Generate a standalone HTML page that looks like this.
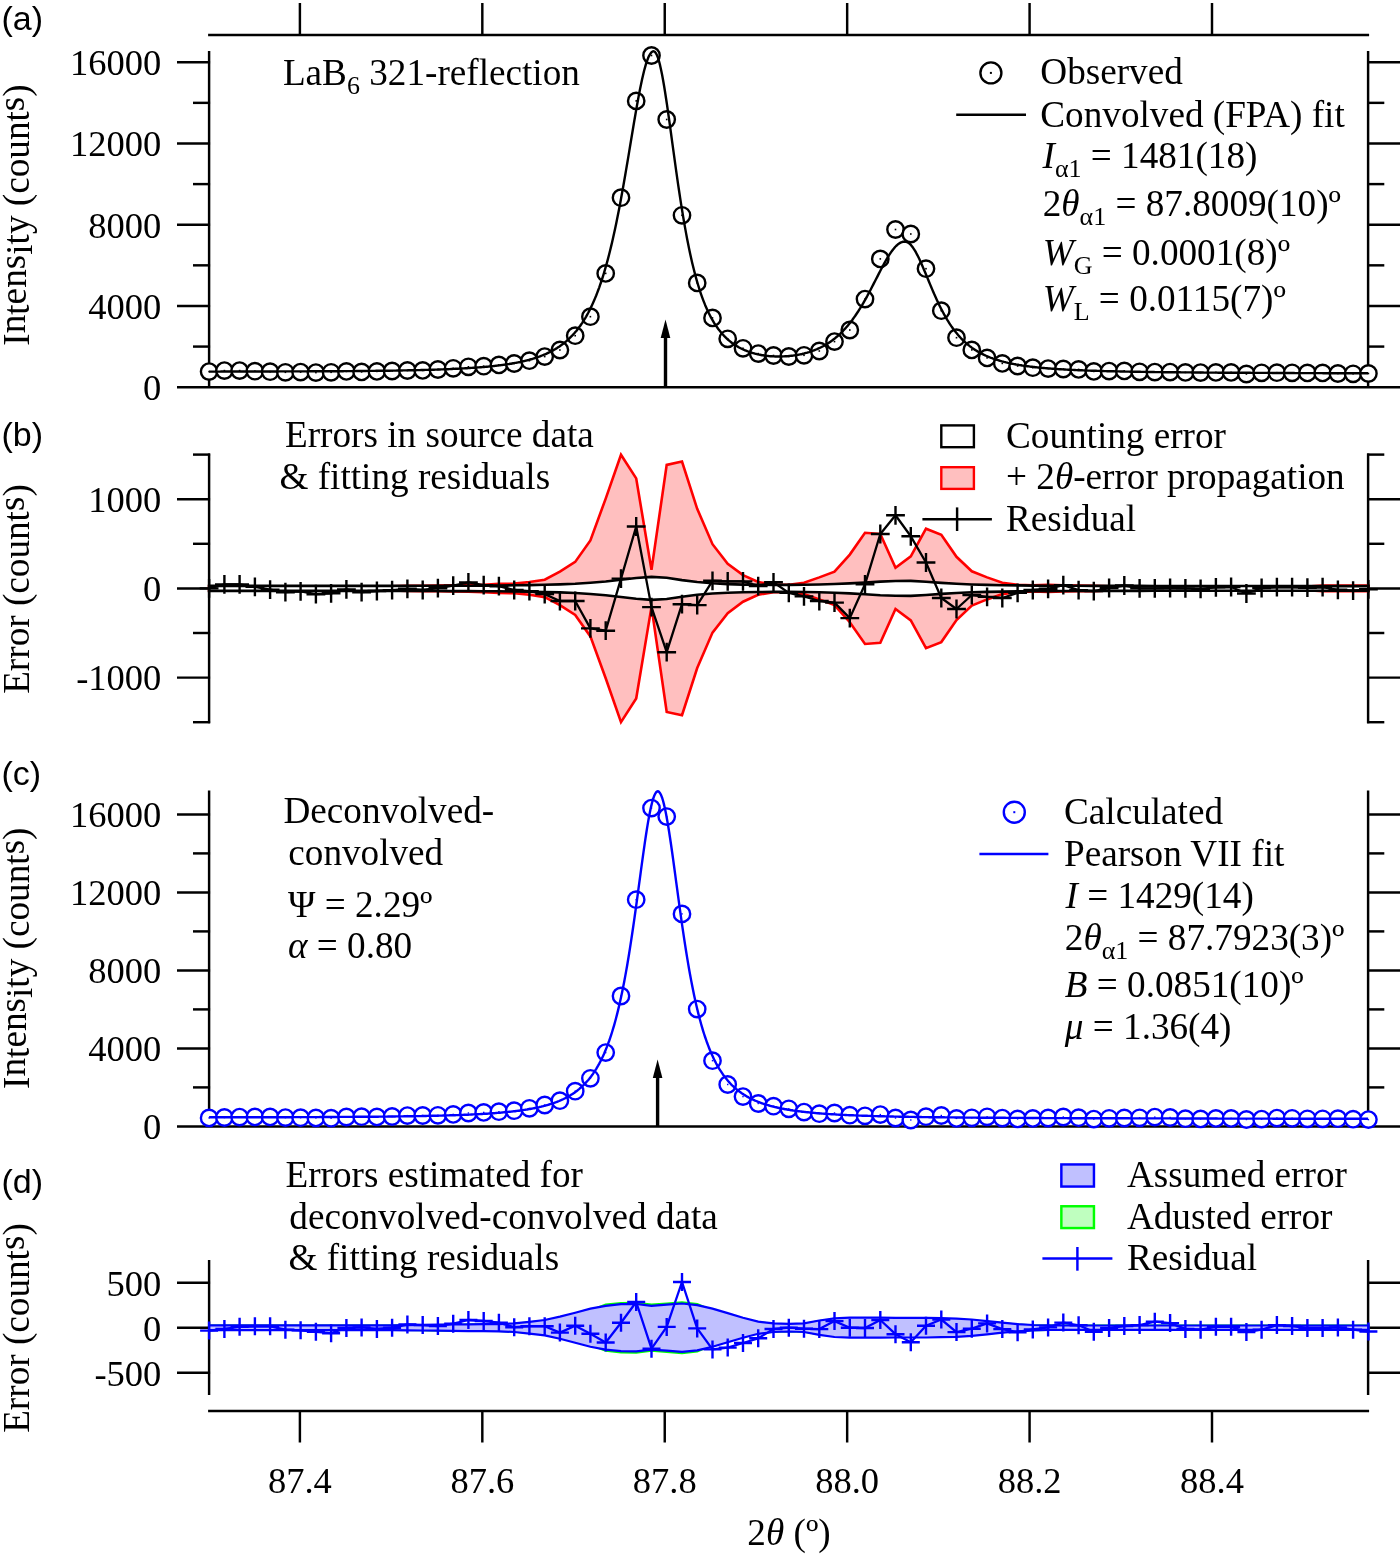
<!DOCTYPE html>
<html><head><meta charset="utf-8"><title>Figure</title>
<style>html,body{margin:0;padding:0;background:#fff}svg{display:block}text{fill:#000}</style></head>
<body><svg width="1400" height="1555" viewBox="0 0 1400 1555">
<rect width="1400" height="1555" fill="#fff"/>
<line x1="208.1" y1="35.0" x2="1369.1" y2="35.0" stroke="#000" stroke-width="2.45"/>
<line x1="299.9" y1="3" x2="299.9" y2="35.0" stroke="#000" stroke-width="2.45"/>
<line x1="482.31999999999994" y1="3" x2="482.31999999999994" y2="35.0" stroke="#000" stroke-width="2.45"/>
<line x1="664.74" y1="3" x2="664.74" y2="35.0" stroke="#000" stroke-width="2.45"/>
<line x1="847.16" y1="3" x2="847.16" y2="35.0" stroke="#000" stroke-width="2.45"/>
<line x1="1029.58" y1="3" x2="1029.58" y2="35.0" stroke="#000" stroke-width="2.45"/>
<line x1="1212.0" y1="3" x2="1212.0" y2="35.0" stroke="#000" stroke-width="2.45"/>
<line x1="208.1" y1="1411" x2="1369.1" y2="1411" stroke="#000" stroke-width="2.45"/>
<line x1="299.9" y1="1411" x2="299.9" y2="1442.5" stroke="#000" stroke-width="2.45"/>
<line x1="482.31999999999994" y1="1411" x2="482.31999999999994" y2="1442.5" stroke="#000" stroke-width="2.45"/>
<line x1="664.74" y1="1411" x2="664.74" y2="1442.5" stroke="#000" stroke-width="2.45"/>
<line x1="847.16" y1="1411" x2="847.16" y2="1442.5" stroke="#000" stroke-width="2.45"/>
<line x1="1029.58" y1="1411" x2="1029.58" y2="1442.5" stroke="#000" stroke-width="2.45"/>
<line x1="1212.0" y1="1411" x2="1212.0" y2="1442.5" stroke="#000" stroke-width="2.45"/>
<text x="299.9" y="1492.5" font-family='"Liberation Serif", "Times New Roman", serif' font-size="36.5" text-anchor="middle" >87.4</text>
<text x="482.31999999999994" y="1492.5" font-family='"Liberation Serif", "Times New Roman", serif' font-size="36.5" text-anchor="middle" >87.6</text>
<text x="664.74" y="1492.5" font-family='"Liberation Serif", "Times New Roman", serif' font-size="36.5" text-anchor="middle" >87.8</text>
<text x="847.16" y="1492.5" font-family='"Liberation Serif", "Times New Roman", serif' font-size="36.5" text-anchor="middle" >88.0</text>
<text x="1029.58" y="1492.5" font-family='"Liberation Serif", "Times New Roman", serif' font-size="36.5" text-anchor="middle" >88.2</text>
<text x="1212.0" y="1492.5" font-family='"Liberation Serif", "Times New Roman", serif' font-size="36.5" text-anchor="middle" >88.4</text>
<text x="789" y="1545" font-family='"Liberation Serif", "Times New Roman", serif' font-size="37.2" text-anchor="middle">2<tspan font-style="italic">θ</tspan> (<tspan font-size="40" dy="1">º</tspan><tspan dy="-1">)</tspan></text>
<line x1="177" y1="387.2" x2="1400" y2="387.2" stroke="#000" stroke-width="2.45"/>
<line x1="209.1" y1="51" x2="209.1" y2="387.2" stroke="#000" stroke-width="2.45"/>
<line x1="177" y1="305.96" x2="210.1" y2="305.96" stroke="#000" stroke-width="2.45"/>
<line x1="177" y1="224.71999999999997" x2="210.1" y2="224.71999999999997" stroke="#000" stroke-width="2.45"/>
<line x1="177" y1="143.47999999999996" x2="210.1" y2="143.47999999999996" stroke="#000" stroke-width="2.45"/>
<line x1="177" y1="62.23999999999995" x2="210.1" y2="62.23999999999995" stroke="#000" stroke-width="2.45"/>
<line x1="193" y1="346.58" x2="210.1" y2="346.58" stroke="#000" stroke-width="2.45"/>
<line x1="193" y1="265.34" x2="210.1" y2="265.34" stroke="#000" stroke-width="2.45"/>
<line x1="193" y1="184.09999999999997" x2="210.1" y2="184.09999999999997" stroke="#000" stroke-width="2.45"/>
<line x1="193" y1="102.85999999999996" x2="210.1" y2="102.85999999999996" stroke="#000" stroke-width="2.45"/>
<line x1="1368.1" y1="51" x2="1368.1" y2="387.2" stroke="#000" stroke-width="2.45"/>
<line x1="1367.1" y1="305.96" x2="1400" y2="305.96" stroke="#000" stroke-width="2.45"/>
<line x1="1367.1" y1="224.71999999999997" x2="1400" y2="224.71999999999997" stroke="#000" stroke-width="2.45"/>
<line x1="1367.1" y1="143.47999999999996" x2="1400" y2="143.47999999999996" stroke="#000" stroke-width="2.45"/>
<line x1="1367.1" y1="62.23999999999995" x2="1400" y2="62.23999999999995" stroke="#000" stroke-width="2.45"/>
<line x1="1367.1" y1="346.58" x2="1384.3" y2="346.58" stroke="#000" stroke-width="2.45"/>
<line x1="1367.1" y1="265.34" x2="1384.3" y2="265.34" stroke="#000" stroke-width="2.45"/>
<line x1="1367.1" y1="184.09999999999997" x2="1384.3" y2="184.09999999999997" stroke="#000" stroke-width="2.45"/>
<line x1="1367.1" y1="102.85999999999996" x2="1384.3" y2="102.85999999999996" stroke="#000" stroke-width="2.45"/>
<text x="161.3" y="400.0" font-family='"Liberation Serif", "Times New Roman", serif' font-size="36.5" text-anchor="end" >0</text>
<text x="161.3" y="318.76" font-family='"Liberation Serif", "Times New Roman", serif' font-size="36.5" text-anchor="end" >4000</text>
<text x="161.3" y="237.51999999999998" font-family='"Liberation Serif", "Times New Roman", serif' font-size="36.5" text-anchor="end" >8000</text>
<text x="161.3" y="156.27999999999997" font-family='"Liberation Serif", "Times New Roman", serif' font-size="36.5" text-anchor="end" >12000</text>
<text x="161.3" y="75.03999999999995" font-family='"Liberation Serif", "Times New Roman", serif' font-size="36.5" text-anchor="end" >16000</text>
<g fill="#fff" stroke="#000" stroke-width="2.4">
<circle cx="209.1" cy="371.6" r="8.2"/>
<circle cx="224.4" cy="370.6" r="8.2"/>
<circle cx="239.6" cy="370.6" r="8.2"/>
<circle cx="254.9" cy="371.2" r="8.2"/>
<circle cx="270.1" cy="371.7" r="8.2"/>
<circle cx="285.4" cy="372.3" r="8.2"/>
<circle cx="300.6" cy="372.1" r="8.2"/>
<circle cx="315.9" cy="372.6" r="8.2"/>
<circle cx="331.1" cy="372.3" r="8.2"/>
<circle cx="346.4" cy="371.4" r="8.2"/>
<circle cx="361.6" cy="371.9" r="8.2"/>
<circle cx="376.9" cy="371.4" r="8.2"/>
<circle cx="392.1" cy="371.0" r="8.2"/>
<circle cx="407.4" cy="370.5" r="8.2"/>
<circle cx="422.7" cy="370.4" r="8.2"/>
<circle cx="437.9" cy="369.5" r="8.2"/>
<circle cx="453.2" cy="368.3" r="8.2"/>
<circle cx="468.4" cy="366.8" r="8.2"/>
<circle cx="483.7" cy="366.2" r="8.2"/>
<circle cx="498.9" cy="364.9" r="8.2"/>
<circle cx="514.2" cy="363.5" r="8.2"/>
<circle cx="529.4" cy="360.7" r="8.2"/>
<circle cx="544.7" cy="356.6" r="8.2"/>
<circle cx="559.9" cy="350.0" r="8.2"/>
<circle cx="575.2" cy="335.7" r="8.2"/>
<circle cx="590.4" cy="316.7" r="8.2"/>
<circle cx="605.7" cy="273.4" r="8.2"/>
<circle cx="621.0" cy="197.7" r="8.2"/>
<circle cx="636.2" cy="100.9" r="8.2"/>
<circle cx="651.5" cy="55.5" r="8.2"/>
<circle cx="666.7" cy="119.5" r="8.2"/>
<circle cx="682.0" cy="215.3" r="8.2"/>
<circle cx="697.2" cy="282.9" r="8.2"/>
<circle cx="712.5" cy="317.9" r="8.2"/>
<circle cx="727.7" cy="338.8" r="8.2"/>
<circle cx="743.0" cy="348.3" r="8.2"/>
<circle cx="758.2" cy="353.6" r="8.2"/>
<circle cx="773.5" cy="355.5" r="8.2"/>
<circle cx="788.8" cy="356.5" r="8.2"/>
<circle cx="804.0" cy="355.3" r="8.2"/>
<circle cx="819.3" cy="351.0" r="8.2"/>
<circle cx="834.5" cy="341.6" r="8.2"/>
<circle cx="849.8" cy="330.0" r="8.2"/>
<circle cx="865.0" cy="299.1" r="8.2"/>
<circle cx="880.3" cy="258.9" r="8.2"/>
<circle cx="895.5" cy="229.5" r="8.2"/>
<circle cx="910.8" cy="234.0" r="8.2"/>
<circle cx="926.0" cy="268.7" r="8.2"/>
<circle cx="941.3" cy="310.7" r="8.2"/>
<circle cx="956.5" cy="337.7" r="8.2"/>
<circle cx="971.8" cy="349.9" r="8.2"/>
<circle cx="987.1" cy="357.9" r="8.2"/>
<circle cx="1002.3" cy="363.4" r="8.2"/>
<circle cx="1017.6" cy="366.0" r="8.2"/>
<circle cx="1032.8" cy="367.7" r="8.2"/>
<circle cx="1048.1" cy="368.6" r="8.2"/>
<circle cx="1063.3" cy="369.0" r="8.2"/>
<circle cx="1078.6" cy="369.4" r="8.2"/>
<circle cx="1093.8" cy="371.4" r="8.2"/>
<circle cx="1109.1" cy="371.1" r="8.2"/>
<circle cx="1124.3" cy="370.9" r="8.2"/>
<circle cx="1139.6" cy="371.8" r="8.2"/>
<circle cx="1154.8" cy="372.1" r="8.2"/>
<circle cx="1170.1" cy="372.1" r="8.2"/>
<circle cx="1185.4" cy="372.4" r="8.2"/>
<circle cx="1200.6" cy="372.6" r="8.2"/>
<circle cx="1215.9" cy="372.4" r="8.2"/>
<circle cx="1231.1" cy="372.4" r="8.2"/>
<circle cx="1246.4" cy="374.0" r="8.2"/>
<circle cx="1261.6" cy="372.8" r="8.2"/>
<circle cx="1276.9" cy="372.7" r="8.2"/>
<circle cx="1292.1" cy="372.8" r="8.2"/>
<circle cx="1307.4" cy="372.9" r="8.2"/>
<circle cx="1322.6" cy="372.9" r="8.2"/>
<circle cx="1337.9" cy="373.5" r="8.2"/>
<circle cx="1353.1" cy="373.8" r="8.2"/>
<circle cx="1368.4" cy="373.5" r="8.2"/>
</g>
<polyline fill="none" stroke="#000" stroke-width="2.4" stroke-linejoin="round" points="209.1,371.6 210.1,371.6 211.1,371.6 212.1,371.6 213.1,371.6 214.1,371.6 215.1,371.6 216.1,371.6 217.1,371.6 218.1,371.6 219.1,371.6 220.1,371.6 221.1,371.5 222.1,371.5 223.1,371.5 224.1,371.5 225.1,371.5 226.1,371.5 227.1,371.5 228.1,371.5 229.1,371.5 230.1,371.5 231.1,371.5 232.1,371.5 233.1,371.5 234.1,371.5 235.1,371.5 236.1,371.5 237.1,371.5 238.1,371.5 239.1,371.5 240.1,371.5 241.1,371.5 242.1,371.5 243.1,371.5 244.1,371.5 245.1,371.5 246.1,371.5 247.1,371.5 248.1,371.5 249.1,371.5 250.1,371.5 251.1,371.5 252.1,371.5 253.1,371.5 254.1,371.5 255.1,371.5 256.1,371.5 257.1,371.5 258.1,371.5 259.1,371.5 260.1,371.5 261.1,371.5 262.1,371.5 263.1,371.5 264.1,371.5 265.1,371.5 266.1,371.5 267.1,371.5 268.1,371.5 269.1,371.5 270.1,371.5 271.1,371.5 272.1,371.5 273.1,371.5 274.1,371.5 275.1,371.5 276.1,371.5 277.1,371.5 278.1,371.5 279.1,371.4 280.1,371.4 281.1,371.4 282.1,371.4 283.1,371.4 284.1,371.4 285.1,371.4 286.1,371.4 287.1,371.4 288.1,371.4 289.1,371.4 290.1,371.4 291.1,371.4 292.1,371.4 293.1,371.4 294.1,371.4 295.1,371.4 296.1,371.4 297.1,371.4 298.1,371.4 299.1,371.4 300.1,371.4 301.1,371.4 302.1,371.4 303.1,371.4 304.1,371.4 305.1,371.4 306.1,371.4 307.1,371.4 308.1,371.3 309.1,371.3 310.1,371.3 311.1,371.3 312.1,371.3 313.1,371.3 314.1,371.3 315.1,371.3 316.1,371.3 317.1,371.3 318.1,371.3 319.1,371.3 320.1,371.3 321.1,371.3 322.1,371.3 323.1,371.3 324.1,371.3 325.1,371.3 326.1,371.3 327.1,371.3 328.1,371.3 329.1,371.2 330.1,371.2 331.1,371.2 332.1,371.2 333.1,371.2 334.1,371.2 335.1,371.2 336.1,371.2 337.1,371.2 338.1,371.2 339.1,371.2 340.1,371.2 341.1,371.2 342.1,371.2 343.1,371.2 344.1,371.1 345.1,371.1 346.1,371.1 347.1,371.1 348.1,371.1 349.1,371.1 350.1,371.1 351.1,371.1 352.1,371.1 353.1,371.1 354.1,371.1 355.1,371.1 356.1,371.0 357.1,371.0 358.1,371.0 359.1,371.0 360.1,371.0 361.1,371.0 362.1,371.0 363.1,371.0 364.1,371.0 365.1,371.0 366.1,371.0 367.1,370.9 368.1,370.9 369.1,370.9 370.1,370.9 371.1,370.9 372.1,370.9 373.1,370.9 374.1,370.9 375.1,370.9 376.1,370.8 377.1,370.8 378.1,370.8 379.1,370.8 380.1,370.8 381.1,370.8 382.1,370.8 383.1,370.8 384.1,370.7 385.1,370.7 386.1,370.7 387.1,370.7 388.1,370.7 389.1,370.7 390.1,370.7 391.1,370.6 392.1,370.6 393.1,370.6 394.1,370.6 395.1,370.6 396.1,370.6 397.1,370.5 398.1,370.5 399.1,370.5 400.1,370.5 401.1,370.5 402.1,370.5 403.1,370.4 404.1,370.4 405.1,370.4 406.1,370.4 407.1,370.4 408.1,370.3 409.1,370.3 410.1,370.3 411.1,370.3 412.1,370.3 413.1,370.2 414.1,370.2 415.1,370.2 416.1,370.2 417.1,370.1 418.1,370.1 419.1,370.1 420.1,370.1 421.1,370.0 422.1,370.0 423.1,370.0 424.1,370.0 425.1,369.9 426.1,369.9 427.1,369.9 428.1,369.9 429.1,369.8 430.1,369.8 431.1,369.8 432.1,369.7 433.1,369.7 434.1,369.7 435.1,369.6 436.1,369.6 437.1,369.6 438.1,369.5 439.1,369.5 440.1,369.5 441.1,369.4 442.1,369.4 443.1,369.4 444.1,369.3 445.1,369.3 446.1,369.2 447.1,369.2 448.1,369.2 449.1,369.1 450.1,369.1 451.1,369.0 452.1,369.0 453.1,368.9 454.1,368.9 455.1,368.8 456.1,368.8 457.1,368.8 458.1,368.7 459.1,368.6 460.1,368.6 461.1,368.5 462.1,368.5 463.1,368.4 464.1,368.4 465.1,368.3 466.1,368.3 467.1,368.2 468.1,368.1 469.1,368.1 470.1,368.0 471.1,367.9 472.1,367.9 473.1,367.8 474.1,367.7 475.1,367.7 476.1,367.6 477.1,367.5 478.1,367.4 479.1,367.4 480.1,367.3 481.1,367.2 482.1,367.1 483.1,367.0 484.1,367.0 485.1,366.9 486.1,366.8 487.1,366.7 488.1,366.6 489.1,366.5 490.1,366.4 491.1,366.3 492.1,366.2 493.1,366.1 494.1,366.0 495.1,365.9 496.1,365.7 497.1,365.6 498.1,365.5 499.1,365.4 500.1,365.3 501.1,365.1 502.1,365.0 503.1,364.9 504.1,364.7 505.1,364.6 506.1,364.4 507.1,364.3 508.1,364.1 509.1,364.0 510.1,363.8 511.1,363.7 512.1,363.5 513.1,363.3 514.1,363.1 515.1,362.9 516.1,362.8 517.1,362.6 518.1,362.4 519.1,362.2 520.1,362.0 521.1,361.7 522.1,361.5 523.1,361.3 524.1,361.1 525.1,360.8 526.1,360.6 527.1,360.3 528.1,360.1 529.1,359.8 530.1,359.5 531.1,359.2 532.1,359.0 533.1,358.7 534.1,358.3 535.1,358.0 536.1,357.7 537.1,357.4 538.1,357.0 539.1,356.7 540.1,356.3 541.1,355.9 542.1,355.5 543.1,355.1 544.1,354.7 545.1,354.3 546.1,353.9 547.1,353.4 548.1,352.9 549.1,352.4 550.1,352.0 551.1,351.4 552.1,350.9 553.1,350.4 554.1,349.8 555.1,349.2 556.1,348.6 557.1,348.0 558.1,347.3 559.1,346.7 560.1,346.0 561.1,345.3 562.1,344.6 563.1,343.8 564.1,343.0 565.1,342.2 566.1,341.4 567.1,340.5 568.1,339.6 569.1,338.7 570.1,337.7 571.1,336.7 572.1,335.7 573.1,334.6 574.1,333.5 575.1,332.3 576.1,331.2 577.1,329.9 578.1,328.6 579.1,327.3 580.1,326.0 581.1,324.5 582.1,323.1 583.1,321.5 584.1,319.9 585.1,318.3 586.1,316.6 587.1,314.8 588.1,313.0 589.1,311.1 590.1,309.1 591.1,307.1 592.1,305.0 593.1,302.8 594.1,300.5 595.1,298.1 596.1,295.7 597.1,293.1 598.1,290.5 599.1,287.8 600.1,284.9 601.1,282.0 602.1,279.0 603.1,275.8 604.1,272.6 605.1,269.2 606.1,265.7 607.1,262.1 608.1,258.4 609.1,254.5 610.1,250.5 611.1,246.4 612.1,242.2 613.1,237.8 614.1,233.3 615.1,228.7 616.1,223.9 617.1,219.1 618.1,214.0 619.1,208.9 620.1,203.7 621.1,198.3 622.1,192.8 623.1,187.2 624.1,181.5 625.1,175.8 626.1,169.9 627.1,164.0 628.1,158.1 629.1,152.1 630.1,146.0 631.1,140.0 632.1,134.0 633.1,128.0 634.1,122.0 635.1,116.2 636.1,110.4 637.1,104.7 638.1,99.2 639.1,93.9 640.1,88.8 641.1,83.9 642.1,79.2 643.1,74.9 644.1,70.8 645.1,67.1 646.1,63.7 647.1,60.7 648.1,58.1 649.1,55.8 650.1,54.1 651.1,52.7 652.1,51.8 653.1,51.3 654.1,51.4 655.1,52.1 656.1,53.5 657.1,55.5 658.1,58.2 659.1,61.5 660.1,65.4 661.1,69.9 662.1,74.8 663.1,80.2 664.1,86.0 665.1,92.2 666.1,98.7 667.1,105.4 668.1,112.4 669.1,119.5 670.1,126.7 671.1,134.0 672.1,141.3 673.1,148.6 674.1,155.9 675.1,163.2 676.1,170.3 677.1,177.4 678.1,184.3 679.1,191.0 680.1,197.6 681.1,204.1 682.1,210.3 683.1,216.4 684.1,222.3 685.1,227.9 686.1,233.4 687.1,238.7 688.1,243.8 689.1,248.7 690.1,253.5 691.1,258.0 692.1,262.4 693.1,266.5 694.1,270.5 695.1,274.4 696.1,278.1 697.1,281.6 698.1,285.0 699.1,288.2 700.1,291.3 701.1,294.3 702.1,297.1 703.1,299.8 704.1,302.4 705.1,304.9 706.1,307.2 707.1,309.5 708.1,311.7 709.1,313.7 710.1,315.7 711.1,317.6 712.1,319.4 713.1,321.1 714.1,322.8 715.1,324.4 716.1,325.9 717.1,327.3 718.1,328.7 719.1,330.1 720.1,331.3 721.1,332.6 722.1,333.7 723.1,334.8 724.1,335.9 725.1,336.9 726.1,337.9 727.1,338.9 728.1,339.8 729.1,340.6 730.1,341.4 731.1,342.2 732.1,343.0 733.1,343.7 734.1,344.4 735.1,345.1 736.1,345.7 737.1,346.3 738.1,346.9 739.1,347.5 740.1,348.0 741.1,348.5 742.1,349.0 743.1,349.5 744.1,349.9 745.1,350.3 746.1,350.7 747.1,351.1 748.1,351.5 749.1,351.9 750.1,352.2 751.1,352.5 752.1,352.8 753.1,353.1 754.1,353.4 755.1,353.7 756.1,353.9 757.1,354.2 758.1,354.4 759.1,354.6 760.1,354.8 761.1,355.0 762.1,355.2 763.1,355.3 764.1,355.5 765.1,355.6 766.1,355.7 767.1,355.9 768.1,356.0 769.1,356.1 770.1,356.2 771.1,356.2 772.1,356.3 773.1,356.4 774.1,356.4 775.1,356.5 776.1,356.5 777.1,356.5 778.1,356.5 779.1,356.5 780.1,356.5 781.1,356.5 782.1,356.5 783.1,356.4 784.1,356.4 785.1,356.3 786.1,356.3 787.1,356.2 788.1,356.1 789.1,356.0 790.1,355.9 791.1,355.8 792.1,355.7 793.1,355.6 794.1,355.4 795.1,355.3 796.1,355.1 797.1,355.0 798.1,354.8 799.1,354.6 800.1,354.4 801.1,354.2 802.1,354.0 803.1,353.7 804.1,353.5 805.1,353.2 806.1,352.9 807.1,352.7 808.1,352.4 809.1,352.1 810.1,351.7 811.1,351.4 812.1,351.0 813.1,350.7 814.1,350.3 815.1,349.9 816.1,349.5 817.1,349.1 818.1,348.6 819.1,348.2 820.1,347.7 821.1,347.2 822.1,346.7 823.1,346.2 824.1,345.6 825.1,345.0 826.1,344.4 827.1,343.8 828.1,343.2 829.1,342.6 830.1,341.9 831.1,341.2 832.1,340.5 833.1,339.7 834.1,338.9 835.1,338.2 836.1,337.3 837.1,336.5 838.1,335.6 839.1,334.7 840.1,333.8 841.1,332.8 842.1,331.8 843.1,330.8 844.1,329.7 845.1,328.7 846.1,327.5 847.1,326.4 848.1,325.2 849.1,324.0 850.1,322.8 851.1,321.5 852.1,320.2 853.1,318.8 854.1,317.4 855.1,316.0 856.1,314.5 857.1,313.0 858.1,311.5 859.1,309.9 860.1,308.3 861.1,306.7 862.1,305.1 863.1,303.4 864.1,301.6 865.1,299.9 866.1,298.1 867.1,296.3 868.1,294.4 869.1,292.6 870.1,290.7 871.1,288.8 872.1,286.8 873.1,284.9 874.1,282.9 875.1,281.0 876.1,279.0 877.1,277.1 878.1,275.1 879.1,273.1 880.1,271.2 881.1,269.3 882.1,267.4 883.1,265.5 884.1,263.6 885.1,261.8 886.1,260.1 887.1,258.4 888.1,256.7 889.1,255.1 890.1,253.6 891.1,252.1 892.1,250.7 893.1,249.4 894.1,248.2 895.1,247.0 896.1,246.0 897.1,245.1 898.1,244.2 899.1,243.5 900.1,242.9 901.1,242.4 902.1,242.0 903.1,241.8 904.1,241.7 905.1,241.6 906.1,241.8 907.1,242.1 908.1,242.6 909.1,243.3 910.1,244.2 911.1,245.2 912.1,246.5 913.1,247.8 914.1,249.3 915.1,250.9 916.1,252.7 917.1,254.6 918.1,256.5 919.1,258.6 920.1,260.7 921.1,263.0 922.1,265.2 923.1,267.6 924.1,269.9 925.1,272.3 926.1,274.7 927.1,277.1 928.1,279.5 929.1,282.0 930.1,284.4 931.1,286.7 932.1,289.1 933.1,291.4 934.1,293.8 935.1,296.0 936.1,298.2 937.1,300.4 938.1,302.6 939.1,304.7 940.1,306.7 941.1,308.7 942.1,310.6 943.1,312.5 944.1,314.4 945.1,316.2 946.1,317.9 947.1,319.6 948.1,321.2 949.1,322.8 950.1,324.4 951.1,325.9 952.1,327.3 953.1,328.7 954.1,330.0 955.1,331.3 956.1,332.6 957.1,333.8 958.1,335.0 959.1,336.1 960.1,337.2 961.1,338.3 962.1,339.3 963.1,340.3 964.1,341.3 965.1,342.2 966.1,343.1 967.1,344.0 968.1,344.8 969.1,345.6 970.1,346.4 971.1,347.1 972.1,347.9 973.1,348.6 974.1,349.2 975.1,349.9 976.1,350.5 977.1,351.1 978.1,351.7 979.1,352.3 980.1,352.9 981.1,353.4 982.1,353.9 983.1,354.4 984.1,354.9 985.1,355.3 986.1,355.8 987.1,356.2 988.1,356.7 989.1,357.1 990.1,357.5 991.1,357.9 992.1,358.2 993.1,358.6 994.1,358.9 995.1,359.3 996.1,359.6 997.1,359.9 998.1,360.2 999.1,360.5 1000.1,360.8 1001.1,361.1 1002.1,361.4 1003.1,361.6 1004.1,361.9 1005.1,362.1 1006.1,362.4 1007.1,362.6 1008.1,362.9 1009.1,363.1 1010.1,363.3 1011.1,363.5 1012.1,363.7 1013.1,363.9 1014.1,364.1 1015.1,364.3 1016.1,364.5 1017.1,364.6 1018.1,364.8 1019.1,365.0 1020.1,365.1 1021.1,365.3 1022.1,365.5 1023.1,365.6 1024.1,365.8 1025.1,365.9 1026.1,366.0 1027.1,366.2 1028.1,366.3 1029.1,366.4 1030.1,366.6 1031.1,366.7 1032.1,366.8 1033.1,366.9 1034.1,367.0 1035.1,367.2 1036.1,367.3 1037.1,367.4 1038.1,367.5 1039.1,367.6 1040.1,367.7 1041.1,367.8 1042.1,367.9 1043.1,368.0 1044.1,368.0 1045.1,368.1 1046.1,368.2 1047.1,368.3 1048.1,368.4 1049.1,368.5 1050.1,368.5 1051.1,368.6 1052.1,368.7 1053.1,368.8 1054.1,368.8 1055.1,368.9 1056.1,369.0 1057.1,369.0 1058.1,369.1 1059.1,369.2 1060.1,369.2 1061.1,369.3 1062.1,369.4 1063.1,369.4 1064.1,369.5 1065.1,369.5 1066.1,369.6 1067.1,369.6 1068.1,369.7 1069.1,369.7 1070.1,369.8 1071.1,369.8 1072.1,369.9 1073.1,369.9 1074.1,370.0 1075.1,370.0 1076.1,370.1 1077.1,370.1 1078.1,370.2 1079.1,370.2 1080.1,370.3 1081.1,370.3 1082.1,370.3 1083.1,370.4 1084.1,370.4 1085.1,370.5 1086.1,370.5 1087.1,370.5 1088.1,370.6 1089.1,370.6 1090.1,370.6 1091.1,370.7 1092.1,370.7 1093.1,370.7 1094.1,370.8 1095.1,370.8 1096.1,370.8 1097.1,370.9 1098.1,370.9 1099.1,370.9 1100.1,371.0 1101.1,371.0 1102.1,371.0 1103.1,371.0 1104.1,371.1 1105.1,371.1 1106.1,371.1 1107.1,371.2 1108.1,371.2 1109.1,371.2 1110.1,371.2 1111.1,371.3 1112.1,371.3 1113.1,371.3 1114.1,371.3 1115.1,371.4 1116.1,371.4 1117.1,371.4 1118.1,371.4 1119.1,371.4 1120.1,371.5 1121.1,371.5 1122.1,371.5 1123.1,371.5 1124.1,371.5 1125.1,371.6 1126.1,371.6 1127.1,371.6 1128.1,371.6 1129.1,371.6 1130.1,371.7 1131.1,371.7 1132.1,371.7 1133.1,371.7 1134.1,371.7 1135.1,371.8 1136.1,371.8 1137.1,371.8 1138.1,371.8 1139.1,371.8 1140.1,371.8 1141.1,371.9 1142.1,371.9 1143.1,371.9 1144.1,371.9 1145.1,371.9 1146.1,371.9 1147.1,371.9 1148.1,372.0 1149.1,372.0 1150.1,372.0 1151.1,372.0 1152.1,372.0 1153.1,372.0 1154.1,372.0 1155.1,372.1 1156.1,372.1 1157.1,372.1 1158.1,372.1 1159.1,372.1 1160.1,372.1 1161.1,372.1 1162.1,372.1 1163.1,372.2 1164.1,372.2 1165.1,372.2 1166.1,372.2 1167.1,372.2 1168.1,372.2 1169.1,372.2 1170.1,372.2 1171.1,372.2 1172.1,372.3 1173.1,372.3 1174.1,372.3 1175.1,372.3 1176.1,372.3 1177.1,372.3 1178.1,372.3 1179.1,372.3 1180.1,372.3 1181.1,372.4 1182.1,372.4 1183.1,372.4 1184.1,372.4 1185.1,372.4 1186.1,372.4 1187.1,372.4 1188.1,372.4 1189.1,372.4 1190.1,372.4 1191.1,372.4 1192.1,372.5 1193.1,372.5 1194.1,372.5 1195.1,372.5 1196.1,372.5 1197.1,372.5 1198.1,372.5 1199.1,372.5 1200.1,372.5 1201.1,372.5 1202.1,372.5 1203.1,372.5 1204.1,372.6 1205.1,372.6 1206.1,372.6 1207.1,372.6 1208.1,372.6 1209.1,372.6 1210.1,372.6 1211.1,372.6 1212.1,372.6 1213.1,372.6 1214.1,372.6 1215.1,372.6 1216.1,372.6 1217.1,372.6 1218.1,372.7 1219.1,372.7 1220.1,372.7 1221.1,372.7 1222.1,372.7 1223.1,372.7 1224.1,372.7 1225.1,372.7 1226.1,372.7 1227.1,372.7 1228.1,372.7 1229.1,372.7 1230.1,372.7 1231.1,372.7 1232.1,372.7 1233.1,372.8 1234.1,372.8 1235.1,372.8 1236.1,372.8 1237.1,372.8 1238.1,372.8 1239.1,372.8 1240.1,372.8 1241.1,372.8 1242.1,372.8 1243.1,372.8 1244.1,372.8 1245.1,372.8 1246.1,372.8 1247.1,372.8 1248.1,372.8 1249.1,372.8 1250.1,372.8 1251.1,372.9 1252.1,372.9 1253.1,372.9 1254.1,372.9 1255.1,372.9 1256.1,372.9 1257.1,372.9 1258.1,372.9 1259.1,372.9 1260.1,372.9 1261.1,372.9 1262.1,372.9 1263.1,372.9 1264.1,372.9 1265.1,372.9 1266.1,372.9 1267.1,372.9 1268.1,372.9 1269.1,372.9 1270.1,372.9 1271.1,372.9 1272.1,373.0 1273.1,373.0 1274.1,373.0 1275.1,373.0 1276.1,373.0 1277.1,373.0 1278.1,373.0 1279.1,373.0 1280.1,373.0 1281.1,373.0 1282.1,373.0 1283.1,373.0 1284.1,373.0 1285.1,373.0 1286.1,373.0 1287.1,373.0 1288.1,373.0 1289.1,373.0 1290.1,373.0 1291.1,373.0 1292.1,373.0 1293.1,373.0 1294.1,373.0 1295.1,373.1 1296.1,373.1 1297.1,373.1 1298.1,373.1 1299.1,373.1 1300.1,373.1 1301.1,373.1 1302.1,373.1 1303.1,373.1 1304.1,373.1 1305.1,373.1 1306.1,373.1 1307.1,373.1 1308.1,373.1 1309.1,373.1 1310.1,373.1 1311.1,373.1 1312.1,373.1 1313.1,373.1 1314.1,373.1 1315.1,373.1 1316.1,373.1 1317.1,373.1 1318.1,373.1 1319.1,373.1 1320.1,373.1 1321.1,373.1 1322.1,373.1 1323.1,373.2 1324.1,373.2 1325.1,373.2 1326.1,373.2 1327.1,373.2 1328.1,373.2 1329.1,373.2 1330.1,373.2 1331.1,373.2 1332.1,373.2 1333.1,373.2 1334.1,373.2 1335.1,373.2 1336.1,373.2 1337.1,373.2 1338.1,373.2 1339.1,373.2 1340.1,373.2 1341.1,373.2 1342.1,373.2 1343.1,373.2 1344.1,373.2 1345.1,373.2 1346.1,373.2 1347.1,373.2 1348.1,373.2 1349.1,373.2 1350.1,373.2 1351.1,373.2 1352.1,373.2 1353.1,373.2 1354.1,373.3 1355.1,373.3 1356.1,373.3 1357.1,373.3 1358.1,373.3 1359.1,373.3 1360.1,373.3 1361.1,373.3 1362.1,373.3 1363.1,373.3 1364.1,373.3 1365.1,373.3 1366.1,373.3 1367.1,373.3 1368.1,373.3"/>
<g fill="#000">
<rect x="208.3" y="370.8" width="1.6" height="1.6"/>
<rect x="223.6" y="369.8" width="1.6" height="1.6"/>
<rect x="238.8" y="369.8" width="1.6" height="1.6"/>
<rect x="254.1" y="370.4" width="1.6" height="1.6"/>
<rect x="269.3" y="370.9" width="1.6" height="1.6"/>
<rect x="284.6" y="371.5" width="1.6" height="1.6"/>
<rect x="299.8" y="371.3" width="1.6" height="1.6"/>
<rect x="315.1" y="371.8" width="1.6" height="1.6"/>
<rect x="330.3" y="371.5" width="1.6" height="1.6"/>
<rect x="345.6" y="370.6" width="1.6" height="1.6"/>
<rect x="360.8" y="371.1" width="1.6" height="1.6"/>
<rect x="376.1" y="370.6" width="1.6" height="1.6"/>
<rect x="391.3" y="370.2" width="1.6" height="1.6"/>
<rect x="406.6" y="369.7" width="1.6" height="1.6"/>
<rect x="421.9" y="369.6" width="1.6" height="1.6"/>
<rect x="437.1" y="368.7" width="1.6" height="1.6"/>
<rect x="452.4" y="367.5" width="1.6" height="1.6"/>
<rect x="467.6" y="366.0" width="1.6" height="1.6"/>
<rect x="482.9" y="365.4" width="1.6" height="1.6"/>
<rect x="498.1" y="364.1" width="1.6" height="1.6"/>
<rect x="513.4" y="362.7" width="1.6" height="1.6"/>
<rect x="528.6" y="359.9" width="1.6" height="1.6"/>
<rect x="543.9" y="355.8" width="1.6" height="1.6"/>
<rect x="559.1" y="349.2" width="1.6" height="1.6"/>
<rect x="574.4" y="334.9" width="1.6" height="1.6"/>
<rect x="589.6" y="315.9" width="1.6" height="1.6"/>
<rect x="604.9" y="272.6" width="1.6" height="1.6"/>
<rect x="620.2" y="196.9" width="1.6" height="1.6"/>
<rect x="635.4" y="100.1" width="1.6" height="1.6"/>
<rect x="650.7" y="54.7" width="1.6" height="1.6"/>
<rect x="665.9" y="118.7" width="1.6" height="1.6"/>
<rect x="681.2" y="214.5" width="1.6" height="1.6"/>
<rect x="696.4" y="282.1" width="1.6" height="1.6"/>
<rect x="711.7" y="317.1" width="1.6" height="1.6"/>
<rect x="726.9" y="338.0" width="1.6" height="1.6"/>
<rect x="742.2" y="347.5" width="1.6" height="1.6"/>
<rect x="757.4" y="352.8" width="1.6" height="1.6"/>
<rect x="772.7" y="354.7" width="1.6" height="1.6"/>
<rect x="788.0" y="355.7" width="1.6" height="1.6"/>
<rect x="803.2" y="354.5" width="1.6" height="1.6"/>
<rect x="818.5" y="350.2" width="1.6" height="1.6"/>
<rect x="833.7" y="340.8" width="1.6" height="1.6"/>
<rect x="849.0" y="329.2" width="1.6" height="1.6"/>
<rect x="864.2" y="298.3" width="1.6" height="1.6"/>
<rect x="879.5" y="258.1" width="1.6" height="1.6"/>
<rect x="894.7" y="228.7" width="1.6" height="1.6"/>
<rect x="910.0" y="233.2" width="1.6" height="1.6"/>
<rect x="925.2" y="267.9" width="1.6" height="1.6"/>
<rect x="940.5" y="309.9" width="1.6" height="1.6"/>
<rect x="955.7" y="336.9" width="1.6" height="1.6"/>
<rect x="971.0" y="349.1" width="1.6" height="1.6"/>
<rect x="986.3" y="357.1" width="1.6" height="1.6"/>
<rect x="1001.5" y="362.6" width="1.6" height="1.6"/>
<rect x="1016.8" y="365.2" width="1.6" height="1.6"/>
<rect x="1032.0" y="366.9" width="1.6" height="1.6"/>
<rect x="1047.3" y="367.8" width="1.6" height="1.6"/>
<rect x="1062.5" y="368.2" width="1.6" height="1.6"/>
<rect x="1077.8" y="368.6" width="1.6" height="1.6"/>
<rect x="1093.0" y="370.6" width="1.6" height="1.6"/>
<rect x="1108.3" y="370.3" width="1.6" height="1.6"/>
<rect x="1123.5" y="370.1" width="1.6" height="1.6"/>
<rect x="1138.8" y="371.0" width="1.6" height="1.6"/>
<rect x="1154.0" y="371.3" width="1.6" height="1.6"/>
<rect x="1169.3" y="371.3" width="1.6" height="1.6"/>
<rect x="1184.6" y="371.6" width="1.6" height="1.6"/>
<rect x="1199.8" y="371.8" width="1.6" height="1.6"/>
<rect x="1215.1" y="371.6" width="1.6" height="1.6"/>
<rect x="1230.3" y="371.6" width="1.6" height="1.6"/>
<rect x="1245.6" y="373.2" width="1.6" height="1.6"/>
<rect x="1260.8" y="372.0" width="1.6" height="1.6"/>
<rect x="1276.1" y="371.9" width="1.6" height="1.6"/>
<rect x="1291.3" y="372.0" width="1.6" height="1.6"/>
<rect x="1306.6" y="372.1" width="1.6" height="1.6"/>
<rect x="1321.8" y="372.1" width="1.6" height="1.6"/>
<rect x="1337.1" y="372.7" width="1.6" height="1.6"/>
<rect x="1352.3" y="373.0" width="1.6" height="1.6"/>
<rect x="1367.6" y="372.7" width="1.6" height="1.6"/>
</g>
<line x1="665.5" y1="387" x2="665.5" y2="337.6" stroke="#000" stroke-width="3.4"/>
<polygon points="660.7,338.0 665.5,319.6 670.3,338.0" fill="#000"/>
<line x1="177" y1="588.4" x2="1400" y2="588.4" stroke="#000" stroke-width="2.45"/>
<line x1="209.1" y1="453.59999999999997" x2="209.1" y2="723.2" stroke="#000" stroke-width="2.45"/>
<line x1="177" y1="499.2" x2="210.1" y2="499.2" stroke="#000" stroke-width="2.45"/>
<line x1="177" y1="677.6" x2="210.1" y2="677.6" stroke="#000" stroke-width="2.45"/>
<line x1="193" y1="454.59999999999997" x2="210.1" y2="454.59999999999997" stroke="#000" stroke-width="2.45"/>
<line x1="193" y1="543.8" x2="210.1" y2="543.8" stroke="#000" stroke-width="2.45"/>
<line x1="193" y1="633.0" x2="210.1" y2="633.0" stroke="#000" stroke-width="2.45"/>
<line x1="193" y1="722.2" x2="210.1" y2="722.2" stroke="#000" stroke-width="2.45"/>
<line x1="1368.1" y1="453.59999999999997" x2="1368.1" y2="723.2" stroke="#000" stroke-width="2.45"/>
<line x1="1367.1" y1="499.2" x2="1400" y2="499.2" stroke="#000" stroke-width="2.45"/>
<line x1="1367.1" y1="677.6" x2="1400" y2="677.6" stroke="#000" stroke-width="2.45"/>
<line x1="1367.1" y1="454.59999999999997" x2="1384.3" y2="454.59999999999997" stroke="#000" stroke-width="2.45"/>
<line x1="1367.1" y1="543.8" x2="1384.3" y2="543.8" stroke="#000" stroke-width="2.45"/>
<line x1="1367.1" y1="633.0" x2="1384.3" y2="633.0" stroke="#000" stroke-width="2.45"/>
<line x1="1367.1" y1="722.2" x2="1384.3" y2="722.2" stroke="#000" stroke-width="2.45"/>
<text x="161.3" y="512.0" font-family='"Liberation Serif", "Times New Roman", serif' font-size="36.5" text-anchor="end" >1000</text>
<text x="161.3" y="601.1999999999999" font-family='"Liberation Serif", "Times New Roman", serif' font-size="36.5" text-anchor="end" >0</text>
<text x="161.3" y="690.4" font-family='"Liberation Serif", "Times New Roman", serif' font-size="36.5" text-anchor="end" >-1000</text>
<polygon fill="#ffbfbf" stroke="#f00" stroke-width="2.6" stroke-linejoin="miter" points="209.1,586.4 224.4,586.4 239.6,586.4 254.9,586.4 270.1,586.4 285.4,586.4 300.6,586.4 315.9,586.4 331.1,586.4 346.4,586.4 361.6,586.4 376.9,586.4 392.1,586.4 407.4,585.8 422.7,585.7 437.9,585.6 453.2,585.4 468.4,585.2 483.7,584.7 498.9,583.9 514.2,583.6 529.4,582.0 544.7,579.7 559.9,571.7 575.2,561.9 590.4,540.4 605.7,498.6 621.0,454.7 636.2,478.4 651.5,569.9 666.7,464.9 682.0,461.6 697.2,508.8 712.5,544.2 727.7,563.7 743.0,575.1 758.2,582.0 773.5,584.7 788.8,584.7 804.0,582.7 819.3,577.4 834.5,571.7 849.8,554.6 865.0,532.8 880.3,534.0 895.5,567.8 910.8,556.4 926.0,528.7 941.3,534.7 956.5,556.8 971.8,571.3 987.1,577.4 1002.3,582.7 1017.6,584.8 1032.8,585.4 1048.1,584.9 1063.3,585.3 1078.6,585.6 1093.8,585.7 1109.1,586.4 1124.3,586.4 1139.6,586.4 1154.8,586.5 1170.1,586.5 1185.4,586.5 1200.6,586.5 1215.9,586.5 1231.1,586.5 1246.4,586.5 1261.6,586.5 1276.9,586.5 1292.1,586.5 1307.4,586.5 1322.6,585.5 1337.9,585.5 1353.1,585.5 1368.4,585.5 1368.4,591.3 1353.1,591.3 1337.9,591.3 1322.6,591.3 1307.4,590.3 1292.1,590.3 1276.9,590.3 1261.6,590.3 1246.4,590.3 1231.1,590.3 1215.9,590.3 1200.6,590.3 1185.4,590.3 1170.1,590.3 1154.8,590.3 1139.6,590.4 1124.3,590.4 1109.1,590.4 1093.8,591.1 1078.6,591.2 1063.3,591.5 1048.1,591.9 1032.8,591.4 1017.6,592.0 1002.3,594.1 987.1,599.4 971.8,605.5 956.5,620.0 941.3,642.1 926.0,648.1 910.8,620.4 895.5,609.0 880.3,642.8 865.0,644.0 849.8,622.2 834.5,605.1 819.3,599.4 804.0,594.1 788.8,592.1 773.5,592.1 758.2,594.8 743.0,601.7 727.7,613.1 712.5,632.6 697.2,668.0 682.0,715.2 666.7,711.9 651.5,606.9 636.2,698.4 621.0,722.1 605.7,678.2 590.4,636.4 575.2,614.9 559.9,605.1 544.7,597.1 529.4,594.8 514.2,593.2 498.9,592.9 483.7,592.1 468.4,591.6 453.2,591.4 437.9,591.2 422.7,591.1 407.4,591.0 392.1,590.4 376.9,590.4 361.6,590.4 346.4,590.4 331.1,590.4 315.9,590.4 300.6,590.4 285.4,590.4 270.1,590.4 254.9,590.4 239.6,590.4 224.4,590.4 209.1,590.4"/>
<polygon fill="#fff" stroke="#000" stroke-width="2.6" points="209.1,585.9 224.4,585.9 239.6,585.9 254.9,585.9 270.1,585.9 285.4,585.9 300.6,585.9 315.9,585.9 331.1,585.9 346.4,585.9 361.6,585.9 376.9,585.9 392.1,585.9 407.4,585.8 422.7,585.8 437.9,585.8 453.2,585.7 468.4,585.7 483.7,585.6 498.9,585.5 514.2,585.3 529.4,585.1 544.7,584.8 559.9,584.4 575.2,583.8 590.4,582.8 605.7,581.5 621.0,579.8 636.2,578.0 651.5,576.9 666.7,577.8 682.0,580.1 697.2,582.0 712.5,583.3 727.7,584.1 743.0,584.6 758.2,584.8 773.5,584.9 788.8,584.9 804.0,584.8 819.3,584.5 834.5,584.0 849.8,583.4 865.0,582.6 880.3,581.6 895.5,581.0 910.8,580.9 926.0,581.8 941.3,582.9 956.5,583.8 971.8,584.5 987.1,584.9 1002.3,585.2 1017.6,585.4 1032.8,585.6 1048.1,585.7 1063.3,585.8 1078.6,585.8 1093.8,585.9 1109.1,585.9 1124.3,585.9 1139.6,585.9 1154.8,586.0 1170.1,586.0 1185.4,586.0 1200.6,586.0 1215.9,586.0 1231.1,586.0 1246.4,586.0 1261.6,586.0 1276.9,586.0 1292.1,586.0 1307.4,586.0 1322.6,586.1 1337.9,586.1 1353.1,586.1 1368.4,586.1 1368.4,590.7 1353.1,590.7 1337.9,590.7 1322.6,590.7 1307.4,590.8 1292.1,590.8 1276.9,590.8 1261.6,590.8 1246.4,590.8 1231.1,590.8 1215.9,590.8 1200.6,590.8 1185.4,590.8 1170.1,590.8 1154.8,590.8 1139.6,590.9 1124.3,590.9 1109.1,590.9 1093.8,590.9 1078.6,591.0 1063.3,591.0 1048.1,591.1 1032.8,591.2 1017.6,591.4 1002.3,591.6 987.1,591.9 971.8,592.3 956.5,593.0 941.3,593.9 926.0,595.0 910.8,595.9 895.5,595.8 880.3,595.2 865.0,594.2 849.8,593.4 834.5,592.8 819.3,592.3 804.0,592.0 788.8,591.9 773.5,591.9 758.2,592.0 743.0,592.2 727.7,592.7 712.5,593.5 697.2,594.8 682.0,596.7 666.7,599.0 651.5,599.9 636.2,598.8 621.0,597.0 605.7,595.3 590.4,594.0 575.2,593.0 559.9,592.4 544.7,592.0 529.4,591.7 514.2,591.5 498.9,591.3 483.7,591.2 468.4,591.1 453.2,591.1 437.9,591.0 422.7,591.0 407.4,591.0 392.1,590.9 376.9,590.9 361.6,590.9 346.4,590.9 331.1,590.9 315.9,590.9 300.6,590.9 285.4,590.9 270.1,590.9 254.9,590.9 239.6,590.9 224.4,590.9 209.1,590.9"/>
<polyline fill="none" stroke="#000" stroke-width="2.3" stroke-linejoin="round" points="209.1,588.4 224.4,584.4 239.6,584.4 254.9,586.9 270.1,589.6 285.4,592.2 300.6,591.4 315.9,594.2 331.1,593.3 346.4,589.4 361.6,592.2 376.9,591.0 392.1,590.1 407.4,588.8 422.7,590.0 437.9,588.2 453.2,585.6 468.4,582.4 483.7,585.1 498.9,586.2 514.2,590.0 529.4,591.2 544.7,594.1 559.9,601.0 575.2,601.0 590.4,628.4 605.7,630.7 621.0,578.6 636.2,526.5 651.5,607.1 666.7,652.2 682.0,604.2 697.2,605.1 712.5,580.8 727.7,581.4 743.0,581.4 758.2,586.1 773.5,582.3 788.8,592.9 804.0,596.4 819.3,601.0 834.5,602.6 849.8,618.1 865.0,584.3 880.3,534.0 895.5,515.3 910.8,536.3 926.0,562.5 941.3,598.0 956.5,609.0 971.8,595.0 987.1,596.9 1002.3,598.0 1017.6,592.8 1032.8,590.0 1048.1,588.8 1063.3,585.2 1078.6,590.2 1093.8,591.1 1109.1,588.0 1124.3,585.5 1139.6,588.4 1154.8,588.4 1170.1,588.0 1185.4,588.4 1200.6,588.8 1215.9,587.4 1231.1,587.0 1246.4,593.5 1261.6,588.0 1276.9,587.2 1292.1,587.2 1307.4,587.7 1322.6,587.2 1337.9,589.8 1353.1,590.6 1368.4,589.3"/>
<path d="M199.7 588.4h18.8M209.1 579.0v18.8M215.0 584.4h18.8M224.4 575.0v18.8M230.2 584.4h18.8M239.6 575.0v18.8M245.5 586.9h18.8M254.9 577.5v18.8M260.7 589.6h18.8M270.1 580.2v18.8M276.0 592.2h18.8M285.4 582.8v18.8M291.2 591.4h18.8M300.6 582.0v18.8M306.5 594.2h18.8M315.9 584.8v18.8M321.7 593.3h18.8M331.1 583.9v18.8M337.0 589.4h18.8M346.4 580.0v18.8M352.2 592.2h18.8M361.6 582.8v18.8M367.5 591.0h18.8M376.9 581.6v18.8M382.7 590.1h18.8M392.1 580.7v18.8M398.0 588.8h18.8M407.4 579.4v18.8M413.3 590.0h18.8M422.7 580.6v18.8M428.5 588.2h18.8M437.9 578.8v18.8M443.8 585.6h18.8M453.2 576.2v18.8M459.0 582.4h18.8M468.4 573.0v18.8M474.3 585.1h18.8M483.7 575.7v18.8M489.5 586.2h18.8M498.9 576.8v18.8M504.8 590.0h18.8M514.2 580.6v18.8M520.0 591.2h18.8M529.4 581.8v18.8M535.3 594.1h18.8M544.7 584.7v18.8M550.5 601.0h18.8M559.9 591.6v18.8M565.8 601.0h18.8M575.2 591.6v18.8M581.0 628.4h18.8M590.4 619.0v18.8M596.3 630.7h18.8M605.7 621.3v18.8M611.6 578.6h18.8M621.0 569.2v18.8M626.8 526.5h18.8M636.2 517.1v18.8M642.1 607.1h18.8M651.5 597.7v18.8M657.3 652.2h18.8M666.7 642.8v18.8M672.6 604.2h18.8M682.0 594.8v18.8M687.8 605.1h18.8M697.2 595.7v18.8M703.1 580.8h18.8M712.5 571.4v18.8M718.3 581.4h18.8M727.7 572.0v18.8M733.6 581.4h18.8M743.0 572.0v18.8M748.8 586.1h18.8M758.2 576.7v18.8M764.1 582.3h18.8M773.5 572.9v18.8M779.4 592.9h18.8M788.8 583.5v18.8M794.6 596.4h18.8M804.0 587.0v18.8M809.9 601.0h18.8M819.3 591.6v18.8M825.1 602.6h18.8M834.5 593.2v18.8M840.4 618.1h18.8M849.8 608.7v18.8M855.6 584.3h18.8M865.0 574.9v18.8M870.9 534.0h18.8M880.3 524.6v18.8M886.1 515.3h18.8M895.5 505.9v18.8M901.4 536.3h18.8M910.8 526.9v18.8M916.6 562.5h18.8M926.0 553.1v18.8M931.9 598.0h18.8M941.3 588.6v18.8M947.1 609.0h18.8M956.5 599.6v18.8M962.4 595.0h18.8M971.8 585.6v18.8M977.7 596.9h18.8M987.1 587.5v18.8M992.9 598.0h18.8M1002.3 588.6v18.8M1008.2 592.8h18.8M1017.6 583.4v18.8M1023.4 590.0h18.8M1032.8 580.6v18.8M1038.7 588.8h18.8M1048.1 579.4v18.8M1053.9 585.2h18.8M1063.3 575.8v18.8M1069.2 590.2h18.8M1078.6 580.8v18.8M1084.4 591.1h18.8M1093.8 581.7v18.8M1099.7 588.0h18.8M1109.1 578.6v18.8M1114.9 585.5h18.8M1124.3 576.1v18.8M1130.2 588.4h18.8M1139.6 579.0v18.8M1145.4 588.4h18.8M1154.8 579.0v18.8M1160.7 588.0h18.8M1170.1 578.6v18.8M1176.0 588.4h18.8M1185.4 579.0v18.8M1191.2 588.8h18.8M1200.6 579.4v18.8M1206.5 587.4h18.8M1215.9 578.0v18.8M1221.7 587.0h18.8M1231.1 577.6v18.8M1237.0 593.5h18.8M1246.4 584.1v18.8M1252.2 588.0h18.8M1261.6 578.6v18.8M1267.5 587.2h18.8M1276.9 577.8v18.8M1282.7 587.2h18.8M1292.1 577.8v18.8M1298.0 587.7h18.8M1307.4 578.3v18.8M1313.2 587.2h18.8M1322.6 577.8v18.8M1328.5 589.8h18.8M1337.9 580.4v18.8M1343.7 590.6h18.8M1353.1 581.2v18.8M1359.0 589.3h18.8M1368.4 579.9v18.8" stroke="#000" stroke-width="2.4" fill="none"/>
<line x1="177" y1="1126.4" x2="1400" y2="1126.4" stroke="#000" stroke-width="2.45"/>
<line x1="209.1" y1="790.5" x2="209.1" y2="1126.4" stroke="#000" stroke-width="2.45"/>
<line x1="177" y1="1048.4" x2="210.1" y2="1048.4" stroke="#000" stroke-width="2.45"/>
<line x1="177" y1="970.4000000000001" x2="210.1" y2="970.4000000000001" stroke="#000" stroke-width="2.45"/>
<line x1="177" y1="892.4000000000001" x2="210.1" y2="892.4000000000001" stroke="#000" stroke-width="2.45"/>
<line x1="177" y1="814.4000000000001" x2="210.1" y2="814.4000000000001" stroke="#000" stroke-width="2.45"/>
<line x1="193" y1="1087.4" x2="210.1" y2="1087.4" stroke="#000" stroke-width="2.45"/>
<line x1="193" y1="1009.4000000000001" x2="210.1" y2="1009.4000000000001" stroke="#000" stroke-width="2.45"/>
<line x1="193" y1="931.4000000000001" x2="210.1" y2="931.4000000000001" stroke="#000" stroke-width="2.45"/>
<line x1="193" y1="853.4000000000001" x2="210.1" y2="853.4000000000001" stroke="#000" stroke-width="2.45"/>
<line x1="1368.1" y1="790.5" x2="1368.1" y2="1126.4" stroke="#000" stroke-width="2.45"/>
<line x1="1367.1" y1="1048.4" x2="1400" y2="1048.4" stroke="#000" stroke-width="2.45"/>
<line x1="1367.1" y1="970.4000000000001" x2="1400" y2="970.4000000000001" stroke="#000" stroke-width="2.45"/>
<line x1="1367.1" y1="892.4000000000001" x2="1400" y2="892.4000000000001" stroke="#000" stroke-width="2.45"/>
<line x1="1367.1" y1="814.4000000000001" x2="1400" y2="814.4000000000001" stroke="#000" stroke-width="2.45"/>
<line x1="1367.1" y1="1087.4" x2="1384.3" y2="1087.4" stroke="#000" stroke-width="2.45"/>
<line x1="1367.1" y1="1009.4000000000001" x2="1384.3" y2="1009.4000000000001" stroke="#000" stroke-width="2.45"/>
<line x1="1367.1" y1="931.4000000000001" x2="1384.3" y2="931.4000000000001" stroke="#000" stroke-width="2.45"/>
<line x1="1367.1" y1="853.4000000000001" x2="1384.3" y2="853.4000000000001" stroke="#000" stroke-width="2.45"/>
<text x="161.3" y="1139.2" font-family='"Liberation Serif", "Times New Roman", serif' font-size="36.5" text-anchor="end" >0</text>
<text x="161.3" y="1061.2" font-family='"Liberation Serif", "Times New Roman", serif' font-size="36.5" text-anchor="end" >4000</text>
<text x="161.3" y="983.2" font-family='"Liberation Serif", "Times New Roman", serif' font-size="36.5" text-anchor="end" >8000</text>
<text x="161.3" y="905.2" font-family='"Liberation Serif", "Times New Roman", serif' font-size="36.5" text-anchor="end" >12000</text>
<text x="161.3" y="827.2" font-family='"Liberation Serif", "Times New Roman", serif' font-size="36.5" text-anchor="end" >16000</text>
<g fill="#fff" stroke="#00f" stroke-width="2.4">
<circle cx="209.1" cy="1117.9" r="8.2"/>
<circle cx="224.4" cy="1117.5" r="8.2"/>
<circle cx="239.6" cy="1117.1" r="8.2"/>
<circle cx="254.9" cy="1116.9" r="8.2"/>
<circle cx="270.1" cy="1116.9" r="8.2"/>
<circle cx="285.4" cy="1117.6" r="8.2"/>
<circle cx="300.6" cy="1117.7" r="8.2"/>
<circle cx="315.9" cy="1117.9" r="8.2"/>
<circle cx="331.1" cy="1118.2" r="8.2"/>
<circle cx="346.4" cy="1117.0" r="8.2"/>
<circle cx="361.6" cy="1116.7" r="8.2"/>
<circle cx="376.9" cy="1116.9" r="8.2"/>
<circle cx="392.1" cy="1116.5" r="8.2"/>
<circle cx="407.4" cy="1115.6" r="8.2"/>
<circle cx="422.7" cy="1115.5" r="8.2"/>
<circle cx="437.9" cy="1115.3" r="8.2"/>
<circle cx="453.2" cy="1114.4" r="8.2"/>
<circle cx="468.4" cy="1113.0" r="8.2"/>
<circle cx="483.7" cy="1112.4" r="8.2"/>
<circle cx="498.9" cy="1111.7" r="8.2"/>
<circle cx="514.2" cy="1110.7" r="8.2"/>
<circle cx="529.4" cy="1108.3" r="8.2"/>
<circle cx="544.7" cy="1105.0" r="8.2"/>
<circle cx="559.9" cy="1100.7" r="8.2"/>
<circle cx="575.2" cy="1091.2" r="8.2"/>
<circle cx="590.4" cy="1078.3" r="8.2"/>
<circle cx="605.7" cy="1052.6" r="8.2"/>
<circle cx="621.0" cy="996.0" r="8.2"/>
<circle cx="636.2" cy="899.7" r="8.2"/>
<circle cx="651.5" cy="808.1" r="8.2"/>
<circle cx="666.7" cy="816.6" r="8.2"/>
<circle cx="682.0" cy="913.9" r="8.2"/>
<circle cx="697.2" cy="1009.1" r="8.2"/>
<circle cx="712.5" cy="1060.7" r="8.2"/>
<circle cx="727.7" cy="1084.5" r="8.2"/>
<circle cx="743.0" cy="1096.6" r="8.2"/>
<circle cx="758.2" cy="1103.5" r="8.2"/>
<circle cx="773.5" cy="1106.2" r="8.2"/>
<circle cx="788.8" cy="1108.8" r="8.2"/>
<circle cx="804.0" cy="1112.1" r="8.2"/>
<circle cx="819.3" cy="1113.7" r="8.2"/>
<circle cx="834.5" cy="1113.0" r="8.2"/>
<circle cx="849.8" cy="1115.2" r="8.2"/>
<circle cx="865.0" cy="1115.8" r="8.2"/>
<circle cx="880.3" cy="1114.6" r="8.2"/>
<circle cx="895.5" cy="1118.0" r="8.2"/>
<circle cx="910.8" cy="1120.0" r="8.2"/>
<circle cx="926.0" cy="1116.7" r="8.2"/>
<circle cx="941.3" cy="1115.5" r="8.2"/>
<circle cx="956.5" cy="1118.4" r="8.2"/>
<circle cx="971.8" cy="1117.8" r="8.2"/>
<circle cx="987.1" cy="1116.8" r="8.2"/>
<circle cx="1002.3" cy="1118.1" r="8.2"/>
<circle cx="1017.6" cy="1118.9" r="8.2"/>
<circle cx="1032.8" cy="1118.4" r="8.2"/>
<circle cx="1048.1" cy="1118.0" r="8.2"/>
<circle cx="1063.3" cy="1117.0" r="8.2"/>
<circle cx="1078.6" cy="1117.7" r="8.2"/>
<circle cx="1093.8" cy="1119.1" r="8.2"/>
<circle cx="1109.1" cy="1118.3" r="8.2"/>
<circle cx="1124.3" cy="1118.0" r="8.2"/>
<circle cx="1139.6" cy="1117.8" r="8.2"/>
<circle cx="1154.8" cy="1117.1" r="8.2"/>
<circle cx="1170.1" cy="1117.5" r="8.2"/>
<circle cx="1185.4" cy="1118.7" r="8.2"/>
<circle cx="1200.6" cy="1118.9" r="8.2"/>
<circle cx="1215.9" cy="1118.4" r="8.2"/>
<circle cx="1231.1" cy="1118.4" r="8.2"/>
<circle cx="1246.4" cy="1119.5" r="8.2"/>
<circle cx="1261.6" cy="1119.1" r="8.2"/>
<circle cx="1276.9" cy="1118.1" r="8.2"/>
<circle cx="1292.1" cy="1118.3" r="8.2"/>
<circle cx="1307.4" cy="1118.8" r="8.2"/>
<circle cx="1322.6" cy="1118.8" r="8.2"/>
<circle cx="1337.9" cy="1118.7" r="8.2"/>
<circle cx="1353.1" cy="1119.2" r="8.2"/>
<circle cx="1368.4" cy="1119.6" r="8.2"/>
</g>
<polyline fill="none" stroke="#00f" stroke-width="2.4" stroke-linejoin="round" points="209.1,1117.3 210.1,1117.3 211.1,1117.3 212.1,1117.3 213.1,1117.3 214.1,1117.3 215.1,1117.3 216.1,1117.3 217.1,1117.3 218.1,1117.3 219.1,1117.3 220.1,1117.3 221.1,1117.3 222.1,1117.3 223.1,1117.3 224.1,1117.3 225.1,1117.3 226.1,1117.3 227.1,1117.3 228.1,1117.3 229.1,1117.3 230.1,1117.3 231.1,1117.3 232.1,1117.3 233.1,1117.3 234.1,1117.3 235.1,1117.3 236.1,1117.3 237.1,1117.3 238.1,1117.3 239.1,1117.3 240.1,1117.3 241.1,1117.3 242.1,1117.3 243.1,1117.3 244.1,1117.3 245.1,1117.3 246.1,1117.3 247.1,1117.3 248.1,1117.3 249.1,1117.3 250.1,1117.3 251.1,1117.2 252.1,1117.2 253.1,1117.2 254.1,1117.2 255.1,1117.2 256.1,1117.2 257.1,1117.2 258.1,1117.2 259.1,1117.2 260.1,1117.2 261.1,1117.2 262.1,1117.2 263.1,1117.2 264.1,1117.2 265.1,1117.2 266.1,1117.2 267.1,1117.2 268.1,1117.2 269.1,1117.2 270.1,1117.2 271.1,1117.2 272.1,1117.2 273.1,1117.2 274.1,1117.2 275.1,1117.2 276.1,1117.2 277.1,1117.2 278.1,1117.2 279.1,1117.2 280.1,1117.2 281.1,1117.2 282.1,1117.2 283.1,1117.2 284.1,1117.2 285.1,1117.2 286.1,1117.2 287.1,1117.2 288.1,1117.2 289.1,1117.2 290.1,1117.2 291.1,1117.2 292.1,1117.2 293.1,1117.1 294.1,1117.1 295.1,1117.1 296.1,1117.1 297.1,1117.1 298.1,1117.1 299.1,1117.1 300.1,1117.1 301.1,1117.1 302.1,1117.1 303.1,1117.1 304.1,1117.1 305.1,1117.1 306.1,1117.1 307.1,1117.1 308.1,1117.1 309.1,1117.1 310.1,1117.1 311.1,1117.1 312.1,1117.1 313.1,1117.1 314.1,1117.1 315.1,1117.1 316.1,1117.1 317.1,1117.1 318.1,1117.1 319.1,1117.1 320.1,1117.0 321.1,1117.0 322.1,1117.0 323.1,1117.0 324.1,1117.0 325.1,1117.0 326.1,1117.0 327.1,1117.0 328.1,1117.0 329.1,1117.0 330.1,1117.0 331.1,1117.0 332.1,1117.0 333.1,1117.0 334.1,1117.0 335.1,1117.0 336.1,1117.0 337.1,1117.0 338.1,1117.0 339.1,1117.0 340.1,1116.9 341.1,1116.9 342.1,1116.9 343.1,1116.9 344.1,1116.9 345.1,1116.9 346.1,1116.9 347.1,1116.9 348.1,1116.9 349.1,1116.9 350.1,1116.9 351.1,1116.9 352.1,1116.9 353.1,1116.9 354.1,1116.9 355.1,1116.8 356.1,1116.8 357.1,1116.8 358.1,1116.8 359.1,1116.8 360.1,1116.8 361.1,1116.8 362.1,1116.8 363.1,1116.8 364.1,1116.8 365.1,1116.8 366.1,1116.8 367.1,1116.8 368.1,1116.7 369.1,1116.7 370.1,1116.7 371.1,1116.7 372.1,1116.7 373.1,1116.7 374.1,1116.7 375.1,1116.7 376.1,1116.7 377.1,1116.7 378.1,1116.7 379.1,1116.6 380.1,1116.6 381.1,1116.6 382.1,1116.6 383.1,1116.6 384.1,1116.6 385.1,1116.6 386.1,1116.6 387.1,1116.6 388.1,1116.5 389.1,1116.5 390.1,1116.5 391.1,1116.5 392.1,1116.5 393.1,1116.5 394.1,1116.5 395.1,1116.5 396.1,1116.4 397.1,1116.4 398.1,1116.4 399.1,1116.4 400.1,1116.4 401.1,1116.4 402.1,1116.4 403.1,1116.4 404.1,1116.3 405.1,1116.3 406.1,1116.3 407.1,1116.3 408.1,1116.3 409.1,1116.3 410.1,1116.2 411.1,1116.2 412.1,1116.2 413.1,1116.2 414.1,1116.2 415.1,1116.2 416.1,1116.1 417.1,1116.1 418.1,1116.1 419.1,1116.1 420.1,1116.1 421.1,1116.1 422.1,1116.0 423.1,1116.0 424.1,1116.0 425.1,1116.0 426.1,1116.0 427.1,1115.9 428.1,1115.9 429.1,1115.9 430.1,1115.9 431.1,1115.8 432.1,1115.8 433.1,1115.8 434.1,1115.8 435.1,1115.7 436.1,1115.7 437.1,1115.7 438.1,1115.7 439.1,1115.6 440.1,1115.6 441.1,1115.6 442.1,1115.6 443.1,1115.5 444.1,1115.5 445.1,1115.5 446.1,1115.5 447.1,1115.4 448.1,1115.4 449.1,1115.4 450.1,1115.3 451.1,1115.3 452.1,1115.3 453.1,1115.2 454.1,1115.2 455.1,1115.2 456.1,1115.1 457.1,1115.1 458.1,1115.1 459.1,1115.0 460.1,1115.0 461.1,1115.0 462.1,1114.9 463.1,1114.9 464.1,1114.8 465.1,1114.8 466.1,1114.8 467.1,1114.7 468.1,1114.7 469.1,1114.6 470.1,1114.6 471.1,1114.5 472.1,1114.5 473.1,1114.4 474.1,1114.4 475.1,1114.3 476.1,1114.3 477.1,1114.2 478.1,1114.2 479.1,1114.1 480.1,1114.1 481.1,1114.0 482.1,1114.0 483.1,1113.9 484.1,1113.8 485.1,1113.8 486.1,1113.7 487.1,1113.7 488.1,1113.6 489.1,1113.5 490.1,1113.5 491.1,1113.4 492.1,1113.3 493.1,1113.2 494.1,1113.2 495.1,1113.1 496.1,1113.0 497.1,1112.9 498.1,1112.9 499.1,1112.8 500.1,1112.7 501.1,1112.6 502.1,1112.5 503.1,1112.4 504.1,1112.3 505.1,1112.2 506.1,1112.1 507.1,1112.0 508.1,1111.9 509.1,1111.8 510.1,1111.7 511.1,1111.6 512.1,1111.5 513.1,1111.4 514.1,1111.3 515.1,1111.2 516.1,1111.0 517.1,1110.9 518.1,1110.8 519.1,1110.7 520.1,1110.5 521.1,1110.4 522.1,1110.2 523.1,1110.1 524.1,1109.9 525.1,1109.8 526.1,1109.6 527.1,1109.5 528.1,1109.3 529.1,1109.1 530.1,1109.0 531.1,1108.8 532.1,1108.6 533.1,1108.4 534.1,1108.2 535.1,1108.0 536.1,1107.8 537.1,1107.6 538.1,1107.4 539.1,1107.2 540.1,1106.9 541.1,1106.7 542.1,1106.4 543.1,1106.2 544.1,1105.9 545.1,1105.7 546.1,1105.4 547.1,1105.1 548.1,1104.8 549.1,1104.5 550.1,1104.2 551.1,1103.9 552.1,1103.6 553.1,1103.2 554.1,1102.9 555.1,1102.5 556.1,1102.2 557.1,1101.8 558.1,1101.4 559.1,1101.0 560.1,1100.5 561.1,1100.1 562.1,1099.7 563.1,1099.2 564.1,1098.7 565.1,1098.2 566.1,1097.7 567.1,1097.2 568.1,1096.6 569.1,1096.0 570.1,1095.5 571.1,1094.8 572.1,1094.2 573.1,1093.6 574.1,1092.9 575.1,1092.2 576.1,1091.4 577.1,1090.7 578.1,1089.9 579.1,1089.1 580.1,1088.2 581.1,1087.3 582.1,1086.4 583.1,1085.5 584.1,1084.5 585.1,1083.5 586.1,1082.4 587.1,1081.3 588.1,1080.2 589.1,1079.0 590.1,1077.7 591.1,1076.4 592.1,1075.1 593.1,1073.7 594.1,1072.2 595.1,1070.7 596.1,1069.1 597.1,1067.4 598.1,1065.7 599.1,1063.9 600.1,1062.0 601.1,1060.1 602.1,1058.0 603.1,1055.9 604.1,1053.7 605.1,1051.3 606.1,1048.9 607.1,1046.4 608.1,1043.7 609.1,1041.0 610.1,1038.1 611.1,1035.1 612.1,1032.0 613.1,1028.7 614.1,1025.3 615.1,1021.7 616.1,1018.0 617.1,1014.1 618.1,1010.1 619.1,1005.9 620.1,1001.5 621.1,997.0 622.1,992.2 623.1,987.3 624.1,982.2 625.1,976.9 626.1,971.4 627.1,965.7 628.1,959.8 629.1,953.7 630.1,947.4 631.1,940.9 632.1,934.3 633.1,927.5 634.1,920.6 635.1,913.5 636.1,906.3 637.1,899.0 638.1,891.7 639.1,884.2 640.1,876.8 641.1,869.4 642.1,862.1 643.1,854.9 644.1,847.8 645.1,840.9 646.1,834.3 647.1,827.9 648.1,821.9 649.1,816.3 650.1,811.2 651.1,806.6 652.1,802.5 653.1,799.0 654.1,796.1 655.1,793.9 656.1,792.3 657.1,791.5 658.1,791.3 659.1,791.9 660.1,793.2 661.1,795.1 662.1,797.7 663.1,801.0 664.1,804.9 665.1,809.3 666.1,814.2 667.1,819.7 668.1,825.5 669.1,831.7 670.1,838.2 671.1,845.0 672.1,852.0 673.1,859.2 674.1,866.5 675.1,873.9 676.1,881.3 677.1,888.7 678.1,896.1 679.1,903.4 680.1,910.7 681.1,917.8 682.1,924.8 683.1,931.7 684.1,938.4 685.1,944.9 686.1,951.3 687.1,957.4 688.1,963.4 689.1,969.2 690.1,974.7 691.1,980.1 692.1,985.3 693.1,990.3 694.1,995.2 695.1,999.8 696.1,1004.2 697.1,1008.5 698.1,1012.6 699.1,1016.6 700.1,1020.3 701.1,1024.0 702.1,1027.4 703.1,1030.8 704.1,1034.0 705.1,1037.0 706.1,1039.9 707.1,1042.8 708.1,1045.4 709.1,1048.0 710.1,1050.5 711.1,1052.9 712.1,1055.1 713.1,1057.3 714.1,1059.4 715.1,1061.4 716.1,1063.3 717.1,1065.1 718.1,1066.9 719.1,1068.6 720.1,1070.2 721.1,1071.7 722.1,1073.2 723.1,1074.7 724.1,1076.0 725.1,1077.3 726.1,1078.6 727.1,1079.8 728.1,1081.0 729.1,1082.1 730.1,1083.2 731.1,1084.3 732.1,1085.3 733.1,1086.2 734.1,1087.2 735.1,1088.0 736.1,1088.9 737.1,1089.7 738.1,1090.5 739.1,1091.3 740.1,1092.1 741.1,1092.8 742.1,1093.5 743.1,1094.1 744.1,1094.8 745.1,1095.4 746.1,1096.0 747.1,1096.6 748.1,1097.1 749.1,1097.7 750.1,1098.2 751.1,1098.7 752.1,1099.2 753.1,1099.7 754.1,1100.1 755.1,1100.6 756.1,1101.0 757.1,1101.4 758.1,1101.8 759.1,1102.2 760.1,1102.6 761.1,1103.0 762.1,1103.3 763.1,1103.7 764.1,1104.0 765.1,1104.3 766.1,1104.6 767.1,1104.9 768.1,1105.2 769.1,1105.5 770.1,1105.8 771.1,1106.1 772.1,1106.3 773.1,1106.6 774.1,1106.8 775.1,1107.1 776.1,1107.3 777.1,1107.5 778.1,1107.8 779.1,1108.0 780.1,1108.2 781.1,1108.4 782.1,1108.6 783.1,1108.8 784.1,1109.0 785.1,1109.2 786.1,1109.3 787.1,1109.5 788.1,1109.7 789.1,1109.9 790.1,1110.0 791.1,1110.2 792.1,1110.3 793.1,1110.5 794.1,1110.6 795.1,1110.8 796.1,1110.9 797.1,1111.0 798.1,1111.2 799.1,1111.3 800.1,1111.4 801.1,1111.5 802.1,1111.7 803.1,1111.8 804.1,1111.9 805.1,1112.0 806.1,1112.1 807.1,1112.2 808.1,1112.3 809.1,1112.4 810.1,1112.5 811.1,1112.6 812.1,1112.7 813.1,1112.8 814.1,1112.9 815.1,1113.0 816.1,1113.1 817.1,1113.2 818.1,1113.3 819.1,1113.3 820.1,1113.4 821.1,1113.5 822.1,1113.6 823.1,1113.6 824.1,1113.7 825.1,1113.8 826.1,1113.9 827.1,1113.9 828.1,1114.0 829.1,1114.1 830.1,1114.1 831.1,1114.2 832.1,1114.3 833.1,1114.3 834.1,1114.4 835.1,1114.4 836.1,1114.5 837.1,1114.6 838.1,1114.6 839.1,1114.7 840.1,1114.7 841.1,1114.8 842.1,1114.8 843.1,1114.9 844.1,1114.9 845.1,1115.0 846.1,1115.0 847.1,1115.1 848.1,1115.1 849.1,1115.2 850.1,1115.2 851.1,1115.2 852.1,1115.3 853.1,1115.3 854.1,1115.4 855.1,1115.4 856.1,1115.4 857.1,1115.5 858.1,1115.5 859.1,1115.6 860.1,1115.6 861.1,1115.6 862.1,1115.7 863.1,1115.7 864.1,1115.7 865.1,1115.8 866.1,1115.8 867.1,1115.8 868.1,1115.9 869.1,1115.9 870.1,1115.9 871.1,1116.0 872.1,1116.0 873.1,1116.0 874.1,1116.1 875.1,1116.1 876.1,1116.1 877.1,1116.1 878.1,1116.2 879.1,1116.2 880.1,1116.2 881.1,1116.3 882.1,1116.3 883.1,1116.3 884.1,1116.3 885.1,1116.4 886.1,1116.4 887.1,1116.4 888.1,1116.4 889.1,1116.4 890.1,1116.5 891.1,1116.5 892.1,1116.5 893.1,1116.5 894.1,1116.6 895.1,1116.6 896.1,1116.6 897.1,1116.6 898.1,1116.6 899.1,1116.7 900.1,1116.7 901.1,1116.7 902.1,1116.7 903.1,1116.7 904.1,1116.8 905.1,1116.8 906.1,1116.8 907.1,1116.8 908.1,1116.8 909.1,1116.9 910.1,1116.9 911.1,1116.9 912.1,1116.9 913.1,1116.9 914.1,1116.9 915.1,1117.0 916.1,1117.0 917.1,1117.0 918.1,1117.0 919.1,1117.0 920.1,1117.0 921.1,1117.0 922.1,1117.1 923.1,1117.1 924.1,1117.1 925.1,1117.1 926.1,1117.1 927.1,1117.1 928.1,1117.1 929.1,1117.2 930.1,1117.2 931.1,1117.2 932.1,1117.2 933.1,1117.2 934.1,1117.2 935.1,1117.2 936.1,1117.2 937.1,1117.3 938.1,1117.3 939.1,1117.3 940.1,1117.3 941.1,1117.3 942.1,1117.3 943.1,1117.3 944.1,1117.3 945.1,1117.4 946.1,1117.4 947.1,1117.4 948.1,1117.4 949.1,1117.4 950.1,1117.4 951.1,1117.4 952.1,1117.4 953.1,1117.4 954.1,1117.4 955.1,1117.5 956.1,1117.5 957.1,1117.5 958.1,1117.5 959.1,1117.5 960.1,1117.5 961.1,1117.5 962.1,1117.5 963.1,1117.5 964.1,1117.5 965.1,1117.6 966.1,1117.6 967.1,1117.6 968.1,1117.6 969.1,1117.6 970.1,1117.6 971.1,1117.6 972.1,1117.6 973.1,1117.6 974.1,1117.6 975.1,1117.6 976.1,1117.6 977.1,1117.7 978.1,1117.7 979.1,1117.7 980.1,1117.7 981.1,1117.7 982.1,1117.7 983.1,1117.7 984.1,1117.7 985.1,1117.7 986.1,1117.7 987.1,1117.7 988.1,1117.7 989.1,1117.7 990.1,1117.8 991.1,1117.8 992.1,1117.8 993.1,1117.8 994.1,1117.8 995.1,1117.8 996.1,1117.8 997.1,1117.8 998.1,1117.8 999.1,1117.8 1000.1,1117.8 1001.1,1117.8 1002.1,1117.8 1003.1,1117.8 1004.1,1117.8 1005.1,1117.8 1006.1,1117.9 1007.1,1117.9 1008.1,1117.9 1009.1,1117.9 1010.1,1117.9 1011.1,1117.9 1012.1,1117.9 1013.1,1117.9 1014.1,1117.9 1015.1,1117.9 1016.1,1117.9 1017.1,1117.9 1018.1,1117.9 1019.1,1117.9 1020.1,1117.9 1021.1,1117.9 1022.1,1117.9 1023.1,1118.0 1024.1,1118.0 1025.1,1118.0 1026.1,1118.0 1027.1,1118.0 1028.1,1118.0 1029.1,1118.0 1030.1,1118.0 1031.1,1118.0 1032.1,1118.0 1033.1,1118.0 1034.1,1118.0 1035.1,1118.0 1036.1,1118.0 1037.1,1118.0 1038.1,1118.0 1039.1,1118.0 1040.1,1118.0 1041.1,1118.0 1042.1,1118.0 1043.1,1118.0 1044.1,1118.1 1045.1,1118.1 1046.1,1118.1 1047.1,1118.1 1048.1,1118.1 1049.1,1118.1 1050.1,1118.1 1051.1,1118.1 1052.1,1118.1 1053.1,1118.1 1054.1,1118.1 1055.1,1118.1 1056.1,1118.1 1057.1,1118.1 1058.1,1118.1 1059.1,1118.1 1060.1,1118.1 1061.1,1118.1 1062.1,1118.1 1063.1,1118.1 1064.1,1118.1 1065.1,1118.1 1066.1,1118.1 1067.1,1118.1 1068.1,1118.2 1069.1,1118.2 1070.1,1118.2 1071.1,1118.2 1072.1,1118.2 1073.1,1118.2 1074.1,1118.2 1075.1,1118.2 1076.1,1118.2 1077.1,1118.2 1078.1,1118.2 1079.1,1118.2 1080.1,1118.2 1081.1,1118.2 1082.1,1118.2 1083.1,1118.2 1084.1,1118.2 1085.1,1118.2 1086.1,1118.2 1087.1,1118.2 1088.1,1118.2 1089.1,1118.2 1090.1,1118.2 1091.1,1118.2 1092.1,1118.2 1093.1,1118.2 1094.1,1118.2 1095.1,1118.2 1096.1,1118.2 1097.1,1118.3 1098.1,1118.3 1099.1,1118.3 1100.1,1118.3 1101.1,1118.3 1102.1,1118.3 1103.1,1118.3 1104.1,1118.3 1105.1,1118.3 1106.1,1118.3 1107.1,1118.3 1108.1,1118.3 1109.1,1118.3 1110.1,1118.3 1111.1,1118.3 1112.1,1118.3 1113.1,1118.3 1114.1,1118.3 1115.1,1118.3 1116.1,1118.3 1117.1,1118.3 1118.1,1118.3 1119.1,1118.3 1120.1,1118.3 1121.1,1118.3 1122.1,1118.3 1123.1,1118.3 1124.1,1118.3 1125.1,1118.3 1126.1,1118.3 1127.1,1118.3 1128.1,1118.3 1129.1,1118.3 1130.1,1118.4 1131.1,1118.4 1132.1,1118.4 1133.1,1118.4 1134.1,1118.4 1135.1,1118.4 1136.1,1118.4 1137.1,1118.4 1138.1,1118.4 1139.1,1118.4 1140.1,1118.4 1141.1,1118.4 1142.1,1118.4 1143.1,1118.4 1144.1,1118.4 1145.1,1118.4 1146.1,1118.4 1147.1,1118.4 1148.1,1118.4 1149.1,1118.4 1150.1,1118.4 1151.1,1118.4 1152.1,1118.4 1153.1,1118.4 1154.1,1118.4 1155.1,1118.4 1156.1,1118.4 1157.1,1118.4 1158.1,1118.4 1159.1,1118.4 1160.1,1118.4 1161.1,1118.4 1162.1,1118.4 1163.1,1118.4 1164.1,1118.4 1165.1,1118.4 1166.1,1118.4 1167.1,1118.4 1168.1,1118.4 1169.1,1118.4 1170.1,1118.4 1171.1,1118.5 1172.1,1118.5 1173.1,1118.5 1174.1,1118.5 1175.1,1118.5 1176.1,1118.5 1177.1,1118.5 1178.1,1118.5 1179.1,1118.5 1180.1,1118.5 1181.1,1118.5 1182.1,1118.5 1183.1,1118.5 1184.1,1118.5 1185.1,1118.5 1186.1,1118.5 1187.1,1118.5 1188.1,1118.5 1189.1,1118.5 1190.1,1118.5 1191.1,1118.5 1192.1,1118.5 1193.1,1118.5 1194.1,1118.5 1195.1,1118.5 1196.1,1118.5 1197.1,1118.5 1198.1,1118.5 1199.1,1118.5 1200.1,1118.5 1201.1,1118.5 1202.1,1118.5 1203.1,1118.5 1204.1,1118.5 1205.1,1118.5 1206.1,1118.5 1207.1,1118.5 1208.1,1118.5 1209.1,1118.5 1210.1,1118.5 1211.1,1118.5 1212.1,1118.5 1213.1,1118.5 1214.1,1118.5 1215.1,1118.5 1216.1,1118.5 1217.1,1118.5 1218.1,1118.6 1219.1,1118.6 1220.1,1118.6 1221.1,1118.6 1222.1,1118.6 1223.1,1118.6 1224.1,1118.6 1225.1,1118.6 1226.1,1118.6 1227.1,1118.6 1228.1,1118.6 1229.1,1118.6 1230.1,1118.6 1231.1,1118.6 1232.1,1118.6 1233.1,1118.6 1234.1,1118.6 1235.1,1118.6 1236.1,1118.6 1237.1,1118.6 1238.1,1118.6 1239.1,1118.6 1240.1,1118.6 1241.1,1118.6 1242.1,1118.6 1243.1,1118.6 1244.1,1118.6 1245.1,1118.6 1246.1,1118.6 1247.1,1118.6 1248.1,1118.6 1249.1,1118.6 1250.1,1118.6 1251.1,1118.6 1252.1,1118.6 1253.1,1118.6 1254.1,1118.6 1255.1,1118.6 1256.1,1118.6 1257.1,1118.6 1258.1,1118.6 1259.1,1118.6 1260.1,1118.6 1261.1,1118.6 1262.1,1118.6 1263.1,1118.6 1264.1,1118.6 1265.1,1118.6 1266.1,1118.6 1267.1,1118.6 1268.1,1118.6 1269.1,1118.6 1270.1,1118.6 1271.1,1118.6 1272.1,1118.6 1273.1,1118.7 1274.1,1118.7 1275.1,1118.7 1276.1,1118.7 1277.1,1118.7 1278.1,1118.7 1279.1,1118.7 1280.1,1118.7 1281.1,1118.7 1282.1,1118.7 1283.1,1118.7 1284.1,1118.7 1285.1,1118.7 1286.1,1118.7 1287.1,1118.7 1288.1,1118.7 1289.1,1118.7 1290.1,1118.7 1291.1,1118.7 1292.1,1118.7 1293.1,1118.7 1294.1,1118.7 1295.1,1118.7 1296.1,1118.7 1297.1,1118.7 1298.1,1118.7 1299.1,1118.7 1300.1,1118.7 1301.1,1118.7 1302.1,1118.7 1303.1,1118.7 1304.1,1118.7 1305.1,1118.7 1306.1,1118.7 1307.1,1118.7 1308.1,1118.7 1309.1,1118.7 1310.1,1118.7 1311.1,1118.7 1312.1,1118.7 1313.1,1118.7 1314.1,1118.7 1315.1,1118.7 1316.1,1118.7 1317.1,1118.7 1318.1,1118.7 1319.1,1118.7 1320.1,1118.7 1321.1,1118.7 1322.1,1118.7 1323.1,1118.7 1324.1,1118.7 1325.1,1118.7 1326.1,1118.7 1327.1,1118.7 1328.1,1118.7 1329.1,1118.7 1330.1,1118.7 1331.1,1118.7 1332.1,1118.7 1333.1,1118.7 1334.1,1118.7 1335.1,1118.8 1336.1,1118.8 1337.1,1118.8 1338.1,1118.8 1339.1,1118.8 1340.1,1118.8 1341.1,1118.8 1342.1,1118.8 1343.1,1118.8 1344.1,1118.8 1345.1,1118.8 1346.1,1118.8 1347.1,1118.8 1348.1,1118.8 1349.1,1118.8 1350.1,1118.8 1351.1,1118.8 1352.1,1118.8 1353.1,1118.8 1354.1,1118.8 1355.1,1118.8 1356.1,1118.8 1357.1,1118.8 1358.1,1118.8 1359.1,1118.8 1360.1,1118.8 1361.1,1118.8 1362.1,1118.8 1363.1,1118.8 1364.1,1118.8 1365.1,1118.8 1366.1,1118.8 1367.1,1118.8 1368.1,1118.8"/>
<g fill="#00f">
<rect x="208.4" y="1117.2" width="1.4" height="1.4"/>
<rect x="223.7" y="1116.8" width="1.4" height="1.4"/>
<rect x="238.9" y="1116.4" width="1.4" height="1.4"/>
<rect x="254.2" y="1116.2" width="1.4" height="1.4"/>
<rect x="269.4" y="1116.2" width="1.4" height="1.4"/>
<rect x="284.7" y="1116.9" width="1.4" height="1.4"/>
<rect x="299.9" y="1117.0" width="1.4" height="1.4"/>
<rect x="315.2" y="1117.2" width="1.4" height="1.4"/>
<rect x="330.4" y="1117.5" width="1.4" height="1.4"/>
<rect x="345.7" y="1116.3" width="1.4" height="1.4"/>
<rect x="360.9" y="1116.0" width="1.4" height="1.4"/>
<rect x="376.2" y="1116.2" width="1.4" height="1.4"/>
<rect x="391.4" y="1115.8" width="1.4" height="1.4"/>
<rect x="406.7" y="1114.9" width="1.4" height="1.4"/>
<rect x="422.0" y="1114.8" width="1.4" height="1.4"/>
<rect x="437.2" y="1114.6" width="1.4" height="1.4"/>
<rect x="452.5" y="1113.7" width="1.4" height="1.4"/>
<rect x="467.7" y="1112.3" width="1.4" height="1.4"/>
<rect x="483.0" y="1111.7" width="1.4" height="1.4"/>
<rect x="498.2" y="1111.0" width="1.4" height="1.4"/>
<rect x="513.5" y="1110.0" width="1.4" height="1.4"/>
<rect x="528.7" y="1107.6" width="1.4" height="1.4"/>
<rect x="544.0" y="1104.3" width="1.4" height="1.4"/>
<rect x="559.2" y="1100.0" width="1.4" height="1.4"/>
<rect x="574.5" y="1090.5" width="1.4" height="1.4"/>
<rect x="589.7" y="1077.6" width="1.4" height="1.4"/>
<rect x="605.0" y="1051.9" width="1.4" height="1.4"/>
<rect x="620.3" y="995.3" width="1.4" height="1.4"/>
<rect x="635.5" y="899.0" width="1.4" height="1.4"/>
<rect x="650.8" y="807.4" width="1.4" height="1.4"/>
<rect x="666.0" y="815.9" width="1.4" height="1.4"/>
<rect x="681.3" y="913.2" width="1.4" height="1.4"/>
<rect x="696.5" y="1008.4" width="1.4" height="1.4"/>
<rect x="711.8" y="1060.0" width="1.4" height="1.4"/>
<rect x="727.0" y="1083.8" width="1.4" height="1.4"/>
<rect x="742.3" y="1095.9" width="1.4" height="1.4"/>
<rect x="757.5" y="1102.8" width="1.4" height="1.4"/>
<rect x="772.8" y="1105.5" width="1.4" height="1.4"/>
<rect x="788.1" y="1108.1" width="1.4" height="1.4"/>
<rect x="803.3" y="1111.4" width="1.4" height="1.4"/>
<rect x="818.6" y="1113.0" width="1.4" height="1.4"/>
<rect x="833.8" y="1112.3" width="1.4" height="1.4"/>
<rect x="849.1" y="1114.5" width="1.4" height="1.4"/>
<rect x="864.3" y="1115.1" width="1.4" height="1.4"/>
<rect x="879.6" y="1113.9" width="1.4" height="1.4"/>
<rect x="894.8" y="1117.3" width="1.4" height="1.4"/>
<rect x="910.1" y="1119.3" width="1.4" height="1.4"/>
<rect x="925.3" y="1116.0" width="1.4" height="1.4"/>
<rect x="940.6" y="1114.8" width="1.4" height="1.4"/>
<rect x="955.8" y="1117.7" width="1.4" height="1.4"/>
<rect x="971.1" y="1117.1" width="1.4" height="1.4"/>
<rect x="986.4" y="1116.1" width="1.4" height="1.4"/>
<rect x="1001.6" y="1117.4" width="1.4" height="1.4"/>
<rect x="1016.9" y="1118.2" width="1.4" height="1.4"/>
<rect x="1032.1" y="1117.7" width="1.4" height="1.4"/>
<rect x="1047.4" y="1117.3" width="1.4" height="1.4"/>
<rect x="1062.6" y="1116.3" width="1.4" height="1.4"/>
<rect x="1077.9" y="1117.0" width="1.4" height="1.4"/>
<rect x="1093.1" y="1118.4" width="1.4" height="1.4"/>
<rect x="1108.4" y="1117.6" width="1.4" height="1.4"/>
<rect x="1123.6" y="1117.3" width="1.4" height="1.4"/>
<rect x="1138.9" y="1117.1" width="1.4" height="1.4"/>
<rect x="1154.1" y="1116.4" width="1.4" height="1.4"/>
<rect x="1169.4" y="1116.8" width="1.4" height="1.4"/>
<rect x="1184.7" y="1118.0" width="1.4" height="1.4"/>
<rect x="1199.9" y="1118.2" width="1.4" height="1.4"/>
<rect x="1215.2" y="1117.7" width="1.4" height="1.4"/>
<rect x="1230.4" y="1117.7" width="1.4" height="1.4"/>
<rect x="1245.7" y="1118.8" width="1.4" height="1.4"/>
<rect x="1260.9" y="1118.4" width="1.4" height="1.4"/>
<rect x="1276.2" y="1117.4" width="1.4" height="1.4"/>
<rect x="1291.4" y="1117.6" width="1.4" height="1.4"/>
<rect x="1306.7" y="1118.1" width="1.4" height="1.4"/>
<rect x="1321.9" y="1118.1" width="1.4" height="1.4"/>
<rect x="1337.2" y="1118.0" width="1.4" height="1.4"/>
<rect x="1352.4" y="1118.5" width="1.4" height="1.4"/>
<rect x="1367.7" y="1118.9" width="1.4" height="1.4"/>
</g>
<line x1="657.6" y1="1126" x2="657.6" y2="1077.6" stroke="#000" stroke-width="3.4"/>
<polygon points="652.8000000000001,1078.0 657.6,1059.6 662.4,1078.0" fill="#000"/>
<line x1="177" y1="1327.7" x2="1400" y2="1327.7" stroke="#000" stroke-width="2.45"/>
<line x1="209.1" y1="1260" x2="209.1" y2="1395" stroke="#000" stroke-width="2.45"/>
<line x1="177" y1="1282.7" x2="210.1" y2="1282.7" stroke="#000" stroke-width="2.45"/>
<line x1="177" y1="1372.7" x2="210.1" y2="1372.7" stroke="#000" stroke-width="2.45"/>
<line x1="1368.1" y1="1260" x2="1368.1" y2="1395" stroke="#000" stroke-width="2.45"/>
<line x1="1367.1" y1="1282.7" x2="1400" y2="1282.7" stroke="#000" stroke-width="2.45"/>
<line x1="1367.1" y1="1372.7" x2="1400" y2="1372.7" stroke="#000" stroke-width="2.45"/>
<text x="161.3" y="1295.5" font-family='"Liberation Serif", "Times New Roman", serif' font-size="36.5" text-anchor="end" >500</text>
<text x="161.3" y="1340.5" font-family='"Liberation Serif", "Times New Roman", serif' font-size="36.5" text-anchor="end" >0</text>
<text x="161.3" y="1385.5" font-family='"Liberation Serif", "Times New Roman", serif' font-size="36.5" text-anchor="end" >-500</text>
<polygon fill="#bfffbf" stroke="#0f0" stroke-width="2.2" points="209.1,1325.5 224.4,1325.5 239.6,1325.5 254.9,1325.5 270.1,1325.5 285.4,1325.5 300.6,1325.5 315.9,1325.5 331.1,1325.5 346.4,1325.5 361.6,1325.5 376.9,1325.5 392.1,1325.5 407.4,1325.4 422.7,1325.2 437.9,1325.0 453.2,1324.8 468.4,1324.6 483.7,1324.5 498.9,1324.5 514.2,1323.8 529.4,1322.4 544.7,1320.8 559.9,1317.7 575.2,1314.2 590.4,1310.5 605.7,1304.7 621.0,1303.0 636.2,1302.8 651.5,1304.7 666.7,1303.5 682.0,1302.3 697.2,1304.0 712.5,1310.5 727.7,1314.6 743.0,1318.7 758.2,1322.2 773.5,1323.8 788.8,1324.3 804.0,1323.8 819.3,1321.2 834.5,1319.3 849.8,1318.7 865.0,1318.7 880.3,1318.7 895.5,1318.9 910.8,1318.9 926.0,1318.9 941.3,1319.2 956.5,1319.5 971.8,1320.3 987.1,1321.8 1002.3,1323.2 1017.6,1324.5 1032.8,1325.3 1048.1,1325.6 1063.3,1325.7 1078.6,1325.7 1093.8,1325.7 1109.1,1325.7 1124.3,1325.7 1139.6,1325.7 1154.8,1325.7 1170.1,1325.7 1185.4,1325.7 1200.6,1325.7 1215.9,1325.7 1231.1,1325.7 1246.4,1325.7 1261.6,1325.7 1276.9,1325.7 1292.1,1325.7 1307.4,1325.7 1322.6,1325.7 1337.9,1325.7 1353.1,1325.7 1368.4,1325.7 1368.4,1329.7 1353.1,1329.7 1337.9,1329.7 1322.6,1329.7 1307.4,1329.7 1292.1,1329.7 1276.9,1329.7 1261.6,1329.7 1246.4,1329.7 1231.1,1329.7 1215.9,1329.7 1200.6,1329.7 1185.4,1329.7 1170.1,1329.7 1154.8,1329.7 1139.6,1329.7 1124.3,1329.7 1109.1,1329.7 1093.8,1329.7 1078.6,1329.7 1063.3,1329.7 1048.1,1329.8 1032.8,1330.1 1017.6,1330.9 1002.3,1332.2 987.1,1333.6 971.8,1335.1 956.5,1335.9 941.3,1336.2 926.0,1336.5 910.8,1336.5 895.5,1336.5 880.3,1336.7 865.0,1336.7 849.8,1336.7 834.5,1336.1 819.3,1334.2 804.0,1331.6 788.8,1331.1 773.5,1331.6 758.2,1333.2 743.0,1336.7 727.7,1340.8 712.5,1344.9 697.2,1351.4 682.0,1353.1 666.7,1351.9 651.5,1350.7 636.2,1352.6 621.0,1352.4 605.7,1350.7 590.4,1344.9 575.2,1341.2 559.9,1337.7 544.7,1334.6 529.4,1333.0 514.2,1331.6 498.9,1330.9 483.7,1330.9 468.4,1330.8 453.2,1330.6 437.9,1330.4 422.7,1330.2 407.4,1330.0 392.1,1329.9 376.9,1329.9 361.6,1329.9 346.4,1329.9 331.1,1329.9 315.9,1329.9 300.6,1329.9 285.4,1329.9 270.1,1329.9 254.9,1329.9 239.6,1329.9 224.4,1329.9 209.1,1329.9"/>
<polygon fill="#c0c0ff" stroke="#00f" stroke-width="2.2" points="209.1,1325.3 224.4,1325.3 239.6,1325.3 254.9,1325.3 270.1,1325.3 285.4,1325.3 300.6,1325.3 315.9,1325.3 331.1,1325.3 346.4,1325.3 361.6,1325.3 376.9,1325.3 392.1,1325.3 407.4,1325.1 422.7,1324.9 437.9,1324.7 453.2,1324.5 468.4,1324.3 483.7,1324.2 498.9,1324.1 514.2,1323.4 529.4,1321.8 544.7,1320.0 559.9,1316.6 575.2,1312.7 590.4,1308.6 605.7,1305.8 621.0,1304.2 636.2,1304.0 651.5,1305.8 666.7,1304.7 682.0,1303.5 697.2,1305.1 712.5,1308.6 727.7,1313.1 743.0,1317.7 758.2,1321.6 773.5,1323.4 788.8,1323.9 804.0,1323.4 819.3,1320.5 834.5,1318.4 849.8,1317.7 865.0,1317.7 880.3,1317.7 895.5,1317.9 910.8,1317.9 926.0,1317.9 941.3,1318.2 956.5,1318.6 971.8,1319.5 987.1,1321.1 1002.3,1322.7 1017.6,1324.1 1032.8,1325.0 1048.1,1325.4 1063.3,1325.5 1078.6,1325.5 1093.8,1325.5 1109.1,1325.5 1124.3,1325.5 1139.6,1325.5 1154.8,1325.5 1170.1,1325.5 1185.4,1325.5 1200.6,1325.5 1215.9,1325.5 1231.1,1325.5 1246.4,1325.5 1261.6,1325.5 1276.9,1325.5 1292.1,1325.5 1307.4,1325.5 1322.6,1325.5 1337.9,1325.5 1353.1,1325.5 1368.4,1325.5 1368.4,1329.9 1353.1,1329.9 1337.9,1329.9 1322.6,1329.9 1307.4,1329.9 1292.1,1329.9 1276.9,1329.9 1261.6,1329.9 1246.4,1329.9 1231.1,1329.9 1215.9,1329.9 1200.6,1329.9 1185.4,1329.9 1170.1,1329.9 1154.8,1329.9 1139.6,1329.9 1124.3,1329.9 1109.1,1329.9 1093.8,1329.9 1078.6,1329.9 1063.3,1329.9 1048.1,1330.0 1032.8,1330.4 1017.6,1331.3 1002.3,1332.7 987.1,1334.3 971.8,1335.9 956.5,1336.8 941.3,1337.2 926.0,1337.5 910.8,1337.5 895.5,1337.5 880.3,1337.7 865.0,1337.7 849.8,1337.7 834.5,1337.0 819.3,1334.9 804.0,1332.0 788.8,1331.5 773.5,1332.0 758.2,1333.8 743.0,1337.7 727.7,1342.3 712.5,1346.8 697.2,1350.3 682.0,1351.9 666.7,1350.7 651.5,1349.6 636.2,1351.4 621.0,1351.2 605.7,1349.6 590.4,1346.8 575.2,1342.7 559.9,1338.8 544.7,1335.4 529.4,1333.6 514.2,1332.0 498.9,1331.3 483.7,1331.2 468.4,1331.1 453.2,1330.9 437.9,1330.7 422.7,1330.5 407.4,1330.3 392.1,1330.1 376.9,1330.1 361.6,1330.1 346.4,1330.1 331.1,1330.1 315.9,1330.1 300.6,1330.1 285.4,1330.1 270.1,1330.1 254.9,1330.1 239.6,1330.1 224.4,1330.1 209.1,1330.1"/>
<polyline fill="none" stroke="#00f" stroke-width="2.3" stroke-linejoin="round" points="209.1,1330.6 224.4,1328.9 239.6,1326.8 254.9,1326.3 270.1,1326.3 285.4,1329.7 300.6,1330.3 315.9,1331.8 331.1,1333.2 346.4,1328.0 361.6,1327.4 376.9,1328.9 392.1,1327.7 407.4,1324.5 422.7,1325.1 437.9,1326.0 453.2,1323.7 468.4,1320.0 483.7,1321.0 498.9,1322.7 514.2,1327.2 529.4,1326.2 544.7,1326.2 559.9,1332.6 575.2,1325.7 590.4,1333.7 605.7,1342.5 621.0,1322.8 636.2,1302.0 651.5,1348.7 666.7,1326.9 682.0,1282.0 697.2,1328.4 712.5,1349.4 727.7,1347.6 743.0,1343.0 758.2,1338.3 773.5,1329.0 788.8,1327.7 804.0,1328.7 819.3,1329.1 834.5,1321.1 849.8,1327.7 865.0,1328.0 880.3,1320.0 895.5,1334.2 910.8,1342.3 926.0,1325.7 941.3,1319.5 956.5,1332.1 971.8,1328.7 987.1,1323.4 1002.3,1329.1 1017.6,1332.2 1032.8,1329.5 1048.1,1327.4 1063.3,1322.6 1078.6,1325.3 1093.8,1331.8 1109.1,1328.0 1124.3,1326.0 1139.6,1325.1 1154.8,1321.7 1170.1,1323.1 1185.4,1328.9 1200.6,1329.7 1215.9,1326.8 1231.1,1326.8 1246.4,1332.0 1261.6,1329.7 1276.9,1325.1 1292.1,1326.0 1307.4,1328.0 1322.6,1328.0 1337.9,1327.4 1353.1,1329.7 1368.4,1331.5"/>
<path d="M200.1 1330.6h18M209.1 1321.6v18M215.4 1328.9h18M224.4 1319.9v18M230.6 1326.8h18M239.6 1317.8v18M245.9 1326.3h18M254.9 1317.3v18M261.1 1326.3h18M270.1 1317.3v18M276.4 1329.7h18M285.4 1320.7v18M291.6 1330.3h18M300.6 1321.3v18M306.9 1331.8h18M315.9 1322.8v18M322.1 1333.2h18M331.1 1324.2v18M337.4 1328.0h18M346.4 1319.0v18M352.6 1327.4h18M361.6 1318.4v18M367.9 1328.9h18M376.9 1319.9v18M383.1 1327.7h18M392.1 1318.7v18M398.4 1324.5h18M407.4 1315.5v18M413.7 1325.1h18M422.7 1316.1v18M428.9 1326.0h18M437.9 1317.0v18M444.2 1323.7h18M453.2 1314.7v18M459.4 1320.0h18M468.4 1311.0v18M474.7 1321.0h18M483.7 1312.0v18M489.9 1322.7h18M498.9 1313.7v18M505.2 1327.2h18M514.2 1318.2v18M520.4 1326.2h18M529.4 1317.2v18M535.7 1326.2h18M544.7 1317.2v18M550.9 1332.6h18M559.9 1323.6v18M566.2 1325.7h18M575.2 1316.7v18M581.4 1333.7h18M590.4 1324.7v18M596.7 1342.5h18M605.7 1333.5v18M612.0 1322.8h18M621.0 1313.8v18M627.2 1302.0h18M636.2 1293.0v18M642.5 1348.7h18M651.5 1339.7v18M657.7 1326.9h18M666.7 1317.9v18M673.0 1282.0h18M682.0 1273.0v18M688.2 1328.4h18M697.2 1319.4v18M703.5 1349.4h18M712.5 1340.4v18M718.7 1347.6h18M727.7 1338.6v18M734.0 1343.0h18M743.0 1334.0v18M749.2 1338.3h18M758.2 1329.3v18M764.5 1329.0h18M773.5 1320.0v18M779.8 1327.7h18M788.8 1318.7v18M795.0 1328.7h18M804.0 1319.7v18M810.3 1329.1h18M819.3 1320.1v18M825.5 1321.1h18M834.5 1312.1v18M840.8 1327.7h18M849.8 1318.7v18M856.0 1328.0h18M865.0 1319.0v18M871.3 1320.0h18M880.3 1311.0v18M886.5 1334.2h18M895.5 1325.2v18M901.8 1342.3h18M910.8 1333.3v18M917.0 1325.7h18M926.0 1316.7v18M932.3 1319.5h18M941.3 1310.5v18M947.5 1332.1h18M956.5 1323.1v18M962.8 1328.7h18M971.8 1319.7v18M978.1 1323.4h18M987.1 1314.4v18M993.3 1329.1h18M1002.3 1320.1v18M1008.6 1332.2h18M1017.6 1323.2v18M1023.8 1329.5h18M1032.8 1320.5v18M1039.1 1327.4h18M1048.1 1318.4v18M1054.3 1322.6h18M1063.3 1313.6v18M1069.6 1325.3h18M1078.6 1316.3v18M1084.8 1331.8h18M1093.8 1322.8v18M1100.1 1328.0h18M1109.1 1319.0v18M1115.3 1326.0h18M1124.3 1317.0v18M1130.6 1325.1h18M1139.6 1316.1v18M1145.8 1321.7h18M1154.8 1312.7v18M1161.1 1323.1h18M1170.1 1314.1v18M1176.4 1328.9h18M1185.4 1319.9v18M1191.6 1329.7h18M1200.6 1320.7v18M1206.9 1326.8h18M1215.9 1317.8v18M1222.1 1326.8h18M1231.1 1317.8v18M1237.4 1332.0h18M1246.4 1323.0v18M1252.6 1329.7h18M1261.6 1320.7v18M1267.9 1325.1h18M1276.9 1316.1v18M1283.1 1326.0h18M1292.1 1317.0v18M1298.4 1328.0h18M1307.4 1319.0v18M1313.6 1328.0h18M1322.6 1319.0v18M1328.9 1327.4h18M1337.9 1318.4v18M1344.1 1329.7h18M1353.1 1320.7v18M1359.4 1331.5h18M1368.4 1322.5v18" stroke="#00f" stroke-width="2.4" fill="none"/>
<text transform="translate(29,215) rotate(-90)" font-family='"Liberation Serif", "Times New Roman", serif' font-size="37.2" text-anchor="middle" dy="0 -4 4 -3 0 -1 7 -3 0 0 0 0 0 0 0 0 -5 5">Intensity (counts)</text>
<text transform="translate(29,589) rotate(-90)" font-family='"Liberation Serif", "Times New Roman", serif' font-size="37.2" text-anchor="middle" dy="0 0 0 0 0 0 0 0 0 0 0 0 -5 5">Error (counts)</text>
<text transform="translate(29,958.2) rotate(-90)" font-family='"Liberation Serif", "Times New Roman", serif' font-size="37.2" text-anchor="middle" dy="0 -4 4 -3 0 -1 7 -3 0 0 0 0 0 0 0 0 -5 5">Intensity (counts)</text>
<text transform="translate(29,1328) rotate(-90)" font-family='"Liberation Serif", "Times New Roman", serif' font-size="37.2" text-anchor="middle" dy="0 0 0 0 0 0 0 0 0 0 0 0 -5 5">Error (counts)</text>
<text x="1.5" y="30" font-family='"Liberation Sans", Arial, sans-serif' font-size="34" text-anchor="start" >(a)</text>
<text x="1.5" y="445.5" font-family='"Liberation Sans", Arial, sans-serif' font-size="34" text-anchor="start" >(b)</text>
<text x="1.5" y="784.5" font-family='"Liberation Sans", Arial, sans-serif' font-size="34" text-anchor="start" >(c)</text>
<text x="1.5" y="1192.9" font-family='"Liberation Sans", Arial, sans-serif' font-size="34" text-anchor="start" >(d)</text>
<text x="282.9" y="84.7" font-family='"Liberation Serif", "Times New Roman", serif' font-size="37.2" text-anchor="start" >LaB<tspan font-size="26" dy="9">6</tspan><tspan dy="-9"> 321-reflection</tspan></text>
<circle cx="990.9" cy="72.9" r="10.5" fill="none" stroke="#000" stroke-width="2.4"/><rect x="989.9" y="71.9" width="2" height="2"/>
<line x1="956.2" y1="114.7" x2="1026" y2="114.7" stroke="#000" stroke-width="2.45"/>
<text x="1040.3" y="84.4" font-family='"Liberation Serif", "Times New Roman", serif' font-size="37.2" text-anchor="start" >Observed</text>
<text x="1040.3" y="126.6" font-family='"Liberation Serif", "Times New Roman", serif' font-size="37.2" text-anchor="start" >Convolved (FPA) fit</text>
<text x="1042.5" y="168.1" font-family='"Liberation Serif", "Times New Roman", serif' font-size="37.2" text-anchor="start" ><tspan font-style="italic">I</tspan><tspan font-size="26" dy="9">α1</tspan><tspan dy="-9"> = 1481(18)</tspan></text>
<text x="1042.7" y="215.8" font-family='"Liberation Serif", "Times New Roman", serif' font-size="37.2" text-anchor="start" >2<tspan font-style="italic">θ</tspan><tspan font-size="26" dy="9">α1</tspan><tspan dy="-9"> = 87.8009(10)<tspan font-size="40" dy="1">º</tspan></tspan></text>
<text x="1042.7" y="264.6" font-family='"Liberation Serif", "Times New Roman", serif' font-size="37.2" text-anchor="start" ><tspan font-style="italic">W</tspan><tspan font-size="26" dy="9">G</tspan><tspan dy="-9"> = 0.0001(8)<tspan font-size="40" dy="1">º</tspan></tspan></text>
<text x="1042.7" y="310.8" font-family='"Liberation Serif", "Times New Roman", serif' font-size="37.2" text-anchor="start" ><tspan font-style="italic">W</tspan><tspan font-size="26" dy="9">L</tspan><tspan dy="-9"> = 0.0115(7)<tspan font-size="40" dy="1">º</tspan></tspan></text>
<text x="285" y="447.1" font-family='"Liberation Serif", "Times New Roman", serif' font-size="37.2" text-anchor="start" >Errors in source data</text>
<text x="279.5" y="488.6" font-family='"Liberation Serif", "Times New Roman", serif' font-size="37.2" text-anchor="start" >&amp; fitting residuals</text>
<rect x="941.3" y="425.4" width="32.6" height="21.8" fill="#fff" stroke="#000" stroke-width="2.4"/>
<rect x="941.3" y="467.2" width="32.6" height="21.7" fill="#ffbfbf" stroke="#f00" stroke-width="2.4"/>
<line x1="922.4" y1="519.3" x2="991.9" y2="519.3" stroke="#000" stroke-width="2.45"/>
<line x1="957.1" y1="507.4" x2="957.1" y2="531" stroke="#000" stroke-width="2.45"/>
<text x="1006" y="447.7" font-family='"Liberation Serif", "Times New Roman", serif' font-size="37.2" text-anchor="start" >Counting error</text>
<text x="1006" y="489.2" font-family='"Liberation Serif", "Times New Roman", serif' font-size="37.2" text-anchor="start" >+ 2<tspan font-style="italic">θ</tspan>-error propagation</text>
<text x="1006" y="530.9" font-family='"Liberation Serif", "Times New Roman", serif' font-size="37.2" text-anchor="start" >Residual</text>
<text x="283.5" y="822.9" font-family='"Liberation Serif", "Times New Roman", serif' font-size="37.2" text-anchor="start" >Deconvolved-</text>
<text x="288.3" y="864.6" font-family='"Liberation Serif", "Times New Roman", serif' font-size="37.2" text-anchor="start" >convolved</text>
<text x="288" y="916.5" font-family='"Liberation Serif", "Times New Roman", serif' font-size="37.2" text-anchor="start" >Ψ = 2.29<tspan font-size="40" dy="1">º</tspan></text>
<text x="288" y="957.8" font-family='"Liberation Serif", "Times New Roman", serif' font-size="37.2" text-anchor="start" ><tspan font-style="italic">α</tspan> = 0.80</text>
<circle cx="1014.3" cy="812.2" r="10.5" fill="none" stroke="#00f" stroke-width="2.4"/><rect x="1013.3" y="811.2" width="2" height="2" fill="#00f"/>
<line x1="979.4" y1="853.9" x2="1048.4" y2="853.9" stroke="#00f" stroke-width="2.45"/>
<text x="1064" y="823.7" font-family='"Liberation Serif", "Times New Roman", serif' font-size="37.2" text-anchor="start" >Calculated</text>
<text x="1064" y="866" font-family='"Liberation Serif", "Times New Roman", serif' font-size="37.2" text-anchor="start" >Pearson VII fit</text>
<text x="1065.5" y="907.5" font-family='"Liberation Serif", "Times New Roman", serif' font-size="37.2" text-anchor="start" ><tspan font-style="italic">I</tspan> = 1429(14)</text>
<text x="1064.8" y="949.7" font-family='"Liberation Serif", "Times New Roman", serif' font-size="37.2" text-anchor="start" >2<tspan font-style="italic">θ</tspan><tspan font-size="26" dy="9">α1</tspan><tspan dy="-9"> = 87.7923(3)<tspan font-size="40" dy="1">º</tspan></tspan></text>
<text x="1064.8" y="997.4" font-family='"Liberation Serif", "Times New Roman", serif' font-size="37.2" text-anchor="start" ><tspan font-style="italic">B</tspan> = 0.0851(10)<tspan font-size="40" dy="1">º</tspan></text>
<text x="1064.8" y="1038.8" font-family='"Liberation Serif", "Times New Roman", serif' font-size="37.2" text-anchor="start" ><tspan font-style="italic">μ</tspan> = 1.36(4)</text>
<text x="285.5" y="1186.5" font-family='"Liberation Serif", "Times New Roman", serif' font-size="37.2" text-anchor="start" >Errors estimated for</text>
<text x="289.3" y="1228.9" font-family='"Liberation Serif", "Times New Roman", serif' font-size="37.2" text-anchor="start" >deconvolved-convolved data</text>
<text x="288.5" y="1269.5" font-family='"Liberation Serif", "Times New Roman", serif' font-size="37.2" text-anchor="start" >&amp; fitting residuals</text>
<rect x="1061.35" y="1164.45" width="32.6" height="22.1" fill="#c0c0ff" stroke="#00f" stroke-width="2.45"/>
<rect x="1061.35" y="1206.25" width="32.6" height="21.8" fill="#bfffbf" stroke="#0f0" stroke-width="2.45"/>
<line x1="1042.4" y1="1258.5" x2="1112.4" y2="1258.5" stroke="#00f" stroke-width="2.45"/>
<line x1="1077.4" y1="1247" x2="1077.4" y2="1270.7" stroke="#00f" stroke-width="2.45"/>
<text x="1126.9" y="1187.1" font-family='"Liberation Serif", "Times New Roman", serif' font-size="37.2" text-anchor="start" >Assumed error</text>
<text x="1126.9" y="1228.6" font-family='"Liberation Serif", "Times New Roman", serif' font-size="37.2" text-anchor="start" >Adusted error</text>
<text x="1126.9" y="1270" font-family='"Liberation Serif", "Times New Roman", serif' font-size="37.2" text-anchor="start" >Residual</text>
</svg></body></html>
